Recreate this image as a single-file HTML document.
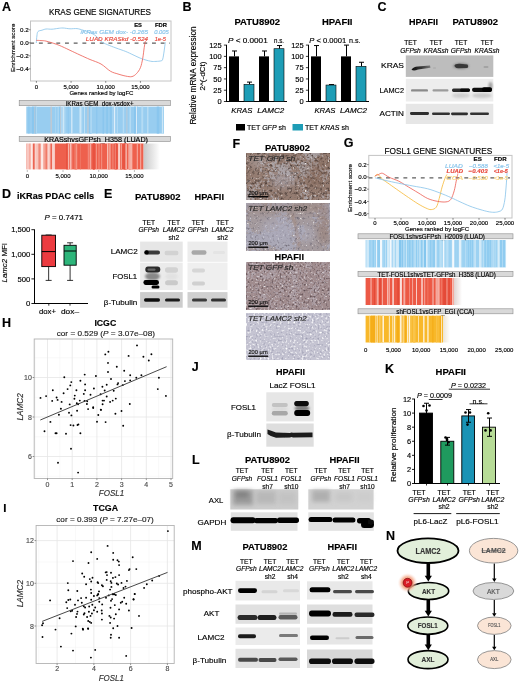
<!DOCTYPE html>
<html><head><meta charset="utf-8"><style>
html,body{margin:0;padding:0;background:#fff;}
svg{display:block;font-family:"Liberation Sans", Arial, sans-serif;}
</style></head><body>
<svg width="520" height="684" viewBox="0 0 520 684">
<defs><filter id="bl" x="-20%" y="-50%" width="140%" height="200%"><feGaussianBlur stdDeviation="0.75"/></filter><filter id="bl2" x="-20%" y="-50%" width="140%" height="200%"><feGaussianBlur stdDeviation="1.2"/></filter><filter id="bl3" x="-50%" y="-50%" width="200%" height="200%"><feGaussianBlur stdDeviation="2"/></filter><filter id="glow" x="-100%" y="-100%" width="300%" height="300%"><feGaussianBlur stdDeviation="1.6"/></filter><linearGradient id="fade13" x1="0" x2="1" y1="0" y2="0"><stop offset="0" stop-color="#c8c8c8"/><stop offset="1" stop-color="#ffffff"/></linearGradient><linearGradient id="krg" x1="0" x2="1" y1="0" y2="0"><stop offset="0" stop-color="#111"/><stop offset="0.5" stop-color="#333"/><stop offset="1" stop-color="#777"/></linearGradient><filter id="bl4" x="-50%" y="-50%" width="200%" height="200%"><feGaussianBlur stdDeviation="3"/></filter><filter id="ih1" x="0" y="0" width="100%" height="100%" color-interpolation-filters="sRGB">
<feTurbulence type="fractalNoise" baseFrequency="0.05" numOctaves="3" seed="3" result="lo0"/>
<feColorMatrix in="lo0" type="matrix" values="1 0 0 0 0  0 1 0 0 0  0 0 1 0 0  0 0 0 0 1" result="lo"/>
<feTurbulence type="fractalNoise" baseFrequency="0.4" numOctaves="2" seed="6" result="hi0"/>
<feColorMatrix in="hi0" type="matrix" values="1 0 0 0 0  0 1 0 0 0  0 0 1 0 0  0 0 0 0 1" result="hi"/>
<feComposite in="lo" in2="hi" operator="arithmetic" k1="0" k2="1.1" k3="0.9" k4="0" result="mix"/>
<feColorMatrix in="mix" type="matrix" values="0 0 0 0 0.525  0 0 0 0 0.384  0 0 0 0 0.310  3.0 0 0 0 -2.4" result="brown"/>
<feFlood flood-color="#aaa2a4" result="bg"/>
<feComposite in="brown" in2="bg" operator="over" result="c1"/>
<feColorMatrix in="hi" type="matrix" values="0 0 0 0 0.329  0 0 0 0 0.267  0 0 0 0 0.243  0 0 3.5 0 -1.75" result="dk"/>
<feComposite in="dk" in2="c1" operator="over" result="c2"/>
<feColorMatrix in="hi" type="matrix" values="0 0 0 0 1  0 0 0 0 1  0 0 0 0 1  0 4.0 0 0 -2.65" result="wt"/>
<feComposite in="wt" in2="c2" operator="over" result="c3"/><feGaussianBlur in="c3" stdDeviation="0.35"/>
</filter><clipPath id="ih1cp"><rect x="246.2" y="153" width="83" height="47"/></clipPath><filter id="ih2" x="0" y="0" width="100%" height="100%" color-interpolation-filters="sRGB">
<feTurbulence type="fractalNoise" baseFrequency="0.04" numOctaves="3" seed="8" result="lo0"/>
<feColorMatrix in="lo0" type="matrix" values="1 0 0 0 0  0 1 0 0 0  0 0 1 0 0  0 0 0 0 1" result="lo"/>
<feTurbulence type="fractalNoise" baseFrequency="0.4" numOctaves="2" seed="11" result="hi0"/>
<feColorMatrix in="hi0" type="matrix" values="1 0 0 0 0  0 1 0 0 0  0 0 1 0 0  0 0 0 0 1" result="hi"/>
<feComposite in="lo" in2="hi" operator="arithmetic" k1="0" k2="1.3" k3="0.7" k4="0" result="mix"/>
<feColorMatrix in="mix" type="matrix" values="0 0 0 0 0.604  0 0 0 0 0.502  0 0 0 0 0.439  3.0 0 0 0 -2.65" result="brown"/>
<feFlood flood-color="#aaa8b6" result="bg"/>
<feComposite in="brown" in2="bg" operator="over" result="c1"/>
<feColorMatrix in="hi" type="matrix" values="0 0 0 0 0.416  0 0 0 0 0.392  0 0 0 0 0.439  0 0 2.8 0 -1.55" result="dk"/>
<feComposite in="dk" in2="c1" operator="over" result="c2"/>
<feColorMatrix in="hi" type="matrix" values="0 0 0 0 1  0 0 0 0 1  0 0 0 0 1  0 4.0 0 0 -2.65" result="wt"/>
<feComposite in="wt" in2="c2" operator="over" result="c3"/><feGaussianBlur in="c3" stdDeviation="0.35"/>
</filter><clipPath id="ih2cp"><rect x="246.2" y="203" width="83" height="47.5"/></clipPath><filter id="ih3" x="0" y="0" width="100%" height="100%" color-interpolation-filters="sRGB">
<feTurbulence type="fractalNoise" baseFrequency="0.1" numOctaves="3" seed="13" result="lo0"/>
<feColorMatrix in="lo0" type="matrix" values="1 0 0 0 0  0 1 0 0 0  0 0 1 0 0  0 0 0 0 1" result="lo"/>
<feTurbulence type="fractalNoise" baseFrequency="0.5" numOctaves="2" seed="16" result="hi0"/>
<feColorMatrix in="hi0" type="matrix" values="1 0 0 0 0  0 1 0 0 0  0 0 1 0 0  0 0 0 0 1" result="hi"/>
<feComposite in="lo" in2="hi" operator="arithmetic" k1="0" k2="0.8" k3="1.2" k4="0" result="mix"/>
<feColorMatrix in="mix" type="matrix" values="0 0 0 0 0.541  0 0 0 0 0.416  0 0 0 0 0.392  2.5 0 0 0 -2.15" result="brown"/>
<feFlood flood-color="#ac9ea4" result="bg"/>
<feComposite in="brown" in2="bg" operator="over" result="c1"/>
<feColorMatrix in="hi" type="matrix" values="0 0 0 0 0.369  0 0 0 0 0.298  0 0 0 0 0.314  0 0 3.2 0 -1.65" result="dk"/>
<feComposite in="dk" in2="c1" operator="over" result="c2"/>
<feColorMatrix in="hi" type="matrix" values="0 0 0 0 1  0 0 0 0 1  0 0 0 0 1  0 3.6 0 0 -2.25" result="wt"/>
<feComposite in="wt" in2="c2" operator="over" result="c3"/><feGaussianBlur in="c3" stdDeviation="0.35"/>
</filter><filter id="ih4" x="0" y="0" width="100%" height="100%" color-interpolation-filters="sRGB">
<feTurbulence type="fractalNoise" baseFrequency="0.1" numOctaves="3" seed="17" result="lo0"/>
<feColorMatrix in="lo0" type="matrix" values="1 0 0 0 0  0 1 0 0 0  0 0 1 0 0  0 0 0 0 1" result="lo"/>
<feTurbulence type="fractalNoise" baseFrequency="0.5" numOctaves="2" seed="20" result="hi0"/>
<feColorMatrix in="hi0" type="matrix" values="1 0 0 0 0  0 1 0 0 0  0 0 1 0 0  0 0 0 0 1" result="hi"/>
<feComposite in="lo" in2="hi" operator="arithmetic" k1="0" k2="0.8" k3="1.2" k4="0" result="mix"/>
<feColorMatrix in="mix" type="matrix" values="0 0 0 0 0.690  0 0 0 0 0.627  0 0 0 0 0.659  1.5 0 0 0 -1.9" result="brown"/>
<feFlood flood-color="#c5c4d2" result="bg"/>
<feComposite in="brown" in2="bg" operator="over" result="c1"/>
<feColorMatrix in="hi" type="matrix" values="0 0 0 0 0.596  0 0 0 0 0.596  0 0 0 0 0.682  0 0 2.8 0 -1.5" result="dk"/>
<feComposite in="dk" in2="c1" operator="over" result="c2"/>
<feColorMatrix in="hi" type="matrix" values="0 0 0 0 1  0 0 0 0 1  0 0 0 0 1  0 3.6 0 0 -1.95" result="wt"/>
<feComposite in="wt" in2="c2" operator="over" result="c3"/><feGaussianBlur in="c3" stdDeviation="0.35"/>
</filter><linearGradient id="fade24" x1="0" x2="1" y1="0" y2="0"><stop offset="0" stop-color="#e0d4d2"/><stop offset="1" stop-color="#ffffff"/></linearGradient><linearGradient id="fade25" x1="0" x2="1" y1="0" y2="0"><stop offset="0" stop-color="#ece4d4"/><stop offset="1" stop-color="#ffffff"/></linearGradient><marker id="ah" viewBox="0 0 10 10" refX="8" refY="5" markerWidth="3.2" markerHeight="3.2" orient="auto"><path d="M0,0 L10,5 L0,10 z" fill="#000"/></marker><marker id="ah2" viewBox="0 0 10 10" refX="8" refY="5" markerWidth="4" markerHeight="4" orient="auto"><path d="M0,0 L10,5 L0,10 z" fill="#000"/></marker><radialGradient id="pg"><stop offset="0" stop-color="#ee7a56" stop-opacity="1"/><stop offset="0.6" stop-color="#f4a584" stop-opacity="0.8"/><stop offset="1" stop-color="#fde8df" stop-opacity="0"/></radialGradient></defs>
<rect width="520" height="684" fill="#fff"/>
<text x="2.00" y="10.50" font-size="12.5" font-weight="bold" stroke="#000" stroke-width="0.15" >A</text>
<text x="49.00" y="15.48" font-size="8.6" stroke="#000" stroke-width="0.15" textLength="102.00" lengthAdjust="spacingAndGlyphs" >KRAS GENE SIGNATURES</text>
<rect x="30.50" y="21.00" width="140.50" height="60.00" fill="none" stroke="#c4c4c4" stroke-width="1" />
<line x1="28.60" y1="29.76" x2="30.50" y2="29.76" stroke="#555" stroke-width="0.7" />
<text x="28.60" y="31.98" font-size="6.2" text-anchor="end" stroke="#000" stroke-width="0.15">0.2</text>
<line x1="28.60" y1="42.80" x2="30.50" y2="42.80" stroke="#555" stroke-width="0.7" />
<text x="28.60" y="45.02" font-size="6.2" text-anchor="end" stroke="#000" stroke-width="0.15">0.0</text>
<line x1="28.60" y1="55.84" x2="30.50" y2="55.84" stroke="#555" stroke-width="0.7" />
<text x="28.60" y="58.06" font-size="6.2" text-anchor="end" stroke="#000" stroke-width="0.15">–0.2</text>
<line x1="28.60" y1="68.88" x2="30.50" y2="68.88" stroke="#555" stroke-width="0.7" />
<text x="28.60" y="71.10" font-size="6.2" text-anchor="end" stroke="#000" stroke-width="0.15">–0.4</text>
<text transform="translate(14.62,72.00) rotate(-90)" x="0" y="0" font-size="6.2" textLength="48.40" lengthAdjust="spacingAndGlyphs" stroke="#000" stroke-width="0.15">Enrichment score</text>
<line x1="36.40" y1="81.00" x2="36.40" y2="82.80" stroke="#555" stroke-width="0.7" />
<text x="36.40" y="88.75" font-size="6.0" text-anchor="middle" stroke="#000" stroke-width="0.15">0</text>
<line x1="71.07" y1="81.00" x2="71.07" y2="82.80" stroke="#555" stroke-width="0.7" />
<text x="71.07" y="88.75" font-size="6.0" text-anchor="middle" stroke="#000" stroke-width="0.15">5,000</text>
<line x1="105.74" y1="81.00" x2="105.74" y2="82.80" stroke="#555" stroke-width="0.7" />
<text x="105.74" y="88.75" font-size="6.0" text-anchor="middle" stroke="#000" stroke-width="0.15">10,000</text>
<line x1="140.41" y1="81.00" x2="140.41" y2="82.80" stroke="#555" stroke-width="0.7" />
<text x="140.41" y="88.75" font-size="6.0" text-anchor="middle" stroke="#000" stroke-width="0.15">15,000</text>
<text x="69.40" y="95.48" font-size="6.1" stroke="#000" stroke-width="0.15" textLength="64.10" lengthAdjust="spacingAndGlyphs" >Genes ranked by logFC</text>
<line x1="30.2" y1="43.2" x2="170" y2="43.2" stroke="#5e5e5e" stroke-width="1.3" stroke-dasharray="3.9 4.8"/>
<polyline points="36.30,43.00 36.40,41.68 36.53,39.78 36.70,37.74 36.90,36.00 37.07,34.62 37.24,33.39 37.51,32.34 38.00,31.50 38.80,30.95 39.82,30.64 40.93,30.44 42.00,30.20 42.95,29.86 43.88,29.51 44.86,29.20 46.00,29.00 47.36,28.97 48.88,29.08 50.45,29.19 52.00,29.20 53.52,29.06 55.06,28.84 56.57,28.60 58.00,28.40 59.27,28.24 60.44,28.10 61.63,28.01 63.00,28.00 64.61,28.14 66.38,28.39 68.20,28.64 70.00,28.80 71.77,28.78 73.56,28.65 75.32,28.55 77.00,28.60 78.55,28.85 80.00,29.24 81.45,29.70 83.00,30.20 84.70,30.72 86.50,31.29 88.30,31.91 90.00,32.60 91.59,33.33 93.11,34.11 94.58,34.98 96.00,36.00 97.34,37.28 98.59,38.77 99.86,40.24 101.20,41.50 102.60,42.44 104.03,43.18 105.57,43.86 107.30,44.60 109.27,45.43 111.42,46.28 113.69,47.14 116.00,48.00 118.43,48.87 120.99,49.76 123.51,50.64 125.80,51.50 127.76,52.33 129.50,53.14 131.19,53.95 133.00,54.80 134.96,55.72 136.97,56.69 139.06,57.64 141.20,58.50 143.51,59.30 145.96,60.07 148.33,60.72 150.40,61.20 152.06,61.44 153.45,61.51 154.71,61.46 156.00,61.40 157.41,61.33 158.86,61.21 160.17,61.04 161.20,60.80 161.84,60.60 162.19,60.41 162.43,60.02 162.70,59.20 163.05,57.80 163.38,55.96 163.70,53.95 164.00,52.00 164.28,50.04 164.55,47.99 164.79,46.10 165.00,44.60 165.17,43.61 165.31,42.99 165.42,42.59 165.50,42.30" fill="none" stroke="#86c3ea" stroke-width="0.8" stroke-linejoin="round" />
<polyline points="36.30,40.30 37.14,40.35 38.34,40.42 39.69,40.50 41.00,40.60 42.11,40.65 43.16,40.68 44.38,40.79 46.00,41.10 48.26,41.70 50.99,42.51 53.77,43.39 56.20,44.20 58.13,44.91 59.80,45.59 61.37,46.27 63.00,47.00 64.67,47.76 66.30,48.53 68.03,49.36 70.00,50.30 72.29,51.38 74.81,52.57 77.43,53.81 80.00,55.00 82.48,56.14 84.94,57.26 87.43,58.38 90.00,59.50 92.72,60.56 95.54,61.58 98.34,62.69 101.00,64.00 103.50,65.71 105.91,67.71 108.21,69.65 110.40,71.20 112.42,72.23 114.30,72.92 116.13,73.45 118.00,74.00 119.98,74.61 121.99,75.19 123.96,75.70 125.80,76.10 127.48,76.42 129.05,76.67 130.52,76.76 131.90,76.60 133.17,76.16 134.34,75.50 135.43,74.64 136.50,73.60 137.56,72.41 138.59,71.04 139.55,69.47 140.40,67.70 141.11,65.67 141.70,63.41 142.22,60.99 142.70,58.50 143.15,55.77 143.54,52.82 143.89,50.01 144.20,47.70 144.46,46.04 144.66,44.81 144.84,43.86 145.00,43.00 145.16,42.22 145.30,41.61 145.42,41.14 145.50,40.80" fill="none" stroke="#ec5a50" stroke-width="0.8" stroke-linejoin="round" />
<text x="134.20" y="26.93" font-size="5.8" font-weight="bold" stroke="#000" stroke-width="0.15" textLength="7.70" lengthAdjust="spacingAndGlyphs" >ES</text>
<text x="155.00" y="26.93" font-size="5.8" font-weight="bold" stroke="#000" stroke-width="0.15" textLength="12.00" lengthAdjust="spacingAndGlyphs" >FDR</text>
<text x="80.50" y="33.61" font-size="5.9" font-style="italic" fill="#86c3ea" stroke="#86c3ea" stroke-width="0.15" textLength="67.50" lengthAdjust="spacingAndGlyphs" >iKRas GEM dox- -0.265</text>
<text x="154.20" y="33.61" font-size="5.9" font-style="italic" fill="#86c3ea" stroke="#86c3ea" stroke-width="0.15" textLength="14.60" lengthAdjust="spacingAndGlyphs" >0.005</text>
<text x="85.80" y="40.81" font-size="5.9" font-style="italic" fill="#e8473b" stroke="#e8473b" stroke-width="0.15" textLength="62.20" lengthAdjust="spacingAndGlyphs" >LUAD KRASkd -0.524</text>
<text x="154.70" y="40.81" font-size="5.9" font-style="italic" fill="#e8473b" stroke="#e8473b" stroke-width="0.15" textLength="11.30" lengthAdjust="spacingAndGlyphs" >1e-5</text>
<rect x="19.20" y="100.30" width="151.30" height="5.40" fill="#d9d9d9" stroke="#8c8c8c" stroke-width="0.6" />
<text x="66.00" y="105.76" font-size="6.3" stroke="#000" stroke-width="0.15" textLength="67.50" lengthAdjust="spacingAndGlyphs" >iKRas GEM_dox-vsdox+</text>
<rect x="26.30" y="106.60" width="137.70" height="27.00" fill="#98cdf0" />
<rect x="102.50" y="106.60" width="1.57" height="27.00" fill="#8ac6ee" />
<rect x="89.32" y="106.60" width="2.37" height="27.00" fill="#8ac6ee" />
<rect x="106.21" y="106.60" width="1.66" height="27.00" fill="#8ac6ee" />
<rect x="96.22" y="106.60" width="1.11" height="27.00" fill="#8ac6ee" />
<rect x="134.01" y="106.60" width="1.87" height="27.00" fill="#8ac6ee" />
<rect x="67.79" y="106.60" width="0.96" height="27.00" fill="#8ac6ee" />
<rect x="137.02" y="106.60" width="0.95" height="27.00" fill="#8ac6ee" />
<rect x="31.98" y="106.60" width="1.98" height="27.00" fill="#8ac6ee" />
<rect x="156.76" y="106.60" width="2.47" height="27.00" fill="#8ac6ee" />
<rect x="109.89" y="106.60" width="1.91" height="27.00" fill="#8ac6ee" />
<rect x="28.35" y="106.60" width="1.07" height="27.00" fill="#8ac6ee" />
<rect x="34.40" y="106.60" width="1.70" height="27.00" fill="#8ac6ee" />
<rect x="59.34" y="106.60" width="1.12" height="27.00" fill="#8ac6ee" />
<rect x="89.79" y="106.60" width="0.85" height="27.00" fill="#8ac6ee" />
<rect x="141.43" y="106.60" width="1.04" height="27.00" fill="#b4dbf4" />
<rect x="113.75" y="106.60" width="1.12" height="27.00" fill="#b4dbf4" />
<rect x="116.79" y="106.60" width="1.10" height="27.00" fill="#b4dbf4" />
<rect x="64.31" y="106.60" width="1.06" height="27.00" fill="#b4dbf4" />
<rect x="161.82" y="106.60" width="1.60" height="27.00" fill="#b4dbf4" />
<rect x="122.75" y="106.60" width="1.44" height="27.00" fill="#b4dbf4" />
<rect x="57.71" y="106.60" width="0.92" height="27.00" fill="#b4dbf4" />
<rect x="35.91" y="106.60" width="0.89" height="27.00" fill="#b4dbf4" />
<rect x="80.89" y="106.60" width="1.37" height="27.00" fill="#b4dbf4" />
<rect x="78.96" y="106.60" width="1.45" height="27.00" fill="#b4dbf4" />
<rect x="141.65" y="106.60" width="1.56" height="27.00" fill="#b4dbf4" />
<rect x="55.05" y="106.60" width="0.60" height="27.00" fill="#b4dbf4" />
<rect x="90.31" y="106.60" width="1.51" height="27.00" fill="#b4dbf4" />
<rect x="80.40" y="106.60" width="1.58" height="27.00" fill="#b4dbf4" />
<rect x="112.55" y="106.60" width="0.67" height="27.00" fill="#b4dbf4" />
<rect x="63.08" y="106.60" width="1.38" height="27.00" fill="#b4dbf4" />
<rect x="71.87" y="106.60" width="0.69" height="27.00" fill="#b4dbf4" />
<rect x="129.50" y="106.60" width="1.56" height="27.00" fill="#b4dbf4" />
<rect x="60.06" y="106.60" width="0.69" height="27.00" fill="#c8c8cc" />
<rect x="34.51" y="106.60" width="0.68" height="27.00" fill="#c8c8cc" />
<rect x="50.55" y="106.60" width="1.24" height="27.00" fill="#c8c8cc" />
<rect x="87.44" y="106.60" width="1.05" height="27.00" fill="#c8c8cc" />
<rect x="126.53" y="106.60" width="0.75" height="27.00" fill="#c8c8cc" />
<rect x="114.58" y="106.60" width="0.57" height="27.00" fill="#e2f0fa" />
<rect x="84.00" y="106.60" width="0.56" height="27.00" fill="#e2f0fa" />
<rect x="63.29" y="106.60" width="0.61" height="27.00" fill="#e2f0fa" />
<rect x="136.14" y="106.60" width="0.99" height="27.00" fill="#e2f0fa" />
<rect x="147.57" y="106.60" width="0.65" height="27.00" fill="#e2f0fa" />
<rect x="80.35" y="106.60" width="0.61" height="27.00" fill="#e2f0fa" />
<rect x="114.09" y="106.60" width="0.93" height="27.00" fill="#e2f0fa" />
<rect x="161.98" y="106.60" width="0.55" height="27.00" fill="#e2f0fa" />
<rect x="61.71" y="106.60" width="0.61" height="27.00" fill="#e2f0fa" />
<rect x="71.31" y="106.60" width="0.89" height="27.00" fill="#e2f0fa" />
<rect x="19.20" y="136.30" width="151.30" height="5.20" fill="#d9d9d9" stroke="#8c8c8c" stroke-width="0.6" />
<text x="44.20" y="141.66" font-size="6.3" stroke="#000" stroke-width="0.15" textLength="103.80" lengthAdjust="spacingAndGlyphs" >KRASshvsGFPsh_H358 (LUAD)</text>
<rect x="26.30" y="143.50" width="1.25" height="25.90" fill="#f4a295" />
<rect x="27.50" y="143.50" width="1.55" height="25.90" fill="#f8c6bf" />
<rect x="29.00" y="143.50" width="0.85" height="25.90" fill="#f4a295" />
<rect x="29.80" y="143.50" width="1.05" height="25.90" fill="#f4a295" />
<rect x="30.80" y="143.50" width="2.05" height="25.90" fill="#fde9e6" />
<rect x="32.80" y="143.50" width="2.05" height="25.90" fill="#ec6452" />
<rect x="34.80" y="143.50" width="0.85" height="25.90" fill="#f8c6bf" />
<rect x="35.60" y="143.50" width="2.05" height="25.90" fill="#f8c6bf" />
<rect x="37.60" y="143.50" width="1.25" height="25.90" fill="#f4a295" />
<rect x="38.80" y="143.50" width="1.05" height="25.90" fill="#ec6452" />
<rect x="39.80" y="143.50" width="0.65" height="25.90" fill="#f8c6bf" />
<rect x="40.40" y="143.50" width="0.85" height="25.90" fill="#f07a68" />
<rect x="41.20" y="143.50" width="2.05" height="25.90" fill="#fde9e6" />
<rect x="43.20" y="143.50" width="2.05" height="25.90" fill="#f4a295" />
<rect x="45.20" y="143.50" width="2.55" height="25.90" fill="#f07a68" />
<rect x="47.70" y="143.50" width="0.65" height="25.90" fill="#fde9e6" />
<rect x="48.30" y="143.50" width="2.05" height="25.90" fill="#f8c6bf" />
<rect x="50.30" y="143.50" width="0.65" height="25.90" fill="#ec6452" />
<rect x="50.90" y="143.50" width="1.25" height="25.90" fill="#ec6452" />
<rect x="52.10" y="143.50" width="0.65" height="25.90" fill="#f8c6bf" />
<rect x="52.70" y="143.50" width="0.85" height="25.90" fill="#f8c6bf" />
<rect x="53.50" y="143.50" width="1.55" height="25.90" fill="#f8c6bf" />
<rect x="55.00" y="143.50" width="1.05" height="25.90" fill="#ec6452" />
<rect x="56.00" y="143.50" width="87.60" height="25.90" fill="#ee604d" />
<rect x="115.18" y="143.50" width="1.24" height="25.90" fill="#f07a68" />
<rect x="128.73" y="143.50" width="1.96" height="25.90" fill="#f07a68" />
<rect x="75.94" y="143.50" width="1.12" height="25.90" fill="#f07a68" />
<rect x="75.49" y="143.50" width="1.05" height="25.90" fill="#f07a68" />
<rect x="67.14" y="143.50" width="2.05" height="25.90" fill="#f07a68" />
<rect x="74.37" y="143.50" width="1.70" height="25.90" fill="#f07a68" />
<rect x="93.24" y="143.50" width="1.30" height="25.90" fill="#f07a68" />
<rect x="107.94" y="143.50" width="2.22" height="25.90" fill="#f07a68" />
<rect x="79.94" y="143.50" width="0.82" height="25.90" fill="#f07a68" />
<rect x="131.41" y="143.50" width="1.05" height="25.90" fill="#f07a68" />
<rect x="124.86" y="143.50" width="2.18" height="25.90" fill="#f07a68" />
<rect x="119.60" y="143.50" width="2.20" height="25.90" fill="#f07a68" />
<rect x="123.23" y="143.50" width="2.90" height="25.90" fill="#e85240" />
<rect x="129.17" y="143.50" width="1.51" height="25.90" fill="#e85240" />
<rect x="120.65" y="143.50" width="1.97" height="25.90" fill="#e85240" />
<rect x="92.72" y="143.50" width="2.13" height="25.90" fill="#e85240" />
<rect x="92.91" y="143.50" width="1.73" height="25.90" fill="#e85240" />
<rect x="66.09" y="143.50" width="1.63" height="25.90" fill="#e85240" />
<rect x="123.82" y="143.50" width="2.64" height="25.90" fill="#e85240" />
<rect x="114.47" y="143.50" width="2.97" height="25.90" fill="#e85240" />
<rect x="120.90" y="143.50" width="0.89" height="25.90" fill="#f6ada3" />
<rect x="114.89" y="143.50" width="0.59" height="25.90" fill="#f6ada3" />
<rect x="71.33" y="143.50" width="0.81" height="25.90" fill="#f6ada3" />
<rect x="101.45" y="143.50" width="0.64" height="25.90" fill="#f6ada3" />
<rect x="95.94" y="143.50" width="0.68" height="25.90" fill="#f6ada3" />
<rect x="90.30" y="143.50" width="0.92" height="25.90" fill="#f6ada3" />
<rect x="98.71" y="143.50" width="0.59" height="25.90" fill="#f6ada3" />
<rect x="76.49" y="143.50" width="0.66" height="25.90" fill="#f6ada3" />
<rect x="87.87" y="143.50" width="0.64" height="25.90" fill="#f6ada3" />
<rect x="112.69" y="143.50" width="0.55" height="25.90" fill="#f6ada3" />
<rect x="89.68" y="143.50" width="1.17" height="25.90" fill="#f6ada3" />
<rect x="136.79" y="143.50" width="1.00" height="25.90" fill="#f6ada3" />
<rect x="68.34" y="143.50" width="0.52" height="25.90" fill="#fce6e2" />
<rect x="128.66" y="143.50" width="0.90" height="25.90" fill="#fce6e2" />
<rect x="69.86" y="143.50" width="0.82" height="25.90" fill="#fce6e2" />
<rect x="131.44" y="143.50" width="0.71" height="25.90" fill="#fce6e2" />
<rect x="125.60" y="143.50" width="0.94" height="25.90" fill="#fce6e2" />
<rect x="130.27" y="143.50" width="0.60" height="25.90" fill="#fce6e2" />
<rect x="118.27" y="143.50" width="0.69" height="25.90" fill="#fce6e2" />
<rect x="140.53" y="143.50" width="0.57" height="25.90" fill="#fce6e2" />
<rect x="118.73" y="143.50" width="0.80" height="25.90" fill="#fce6e2" />
<rect x="109.70" y="143.50" width="0.61" height="25.90" fill="#fce6e2" />
<rect x="107.32" y="143.50" width="0.79" height="25.90" fill="#fce6e2" />
<rect x="119.25" y="143.50" width="0.68" height="25.90" fill="#fce6e2" />
<rect x="143.60" y="143.50" width="16.40" height="25.90" fill="url(#fade13)" />
<line x1="27.30" y1="170.20" x2="27.30" y2="171.80" stroke="#777" stroke-width="0.6" />
<text x="27.30" y="177.65" font-size="6.0" text-anchor="middle" stroke="#000" stroke-width="0.15">0</text>
<line x1="63.00" y1="170.20" x2="63.00" y2="171.80" stroke="#777" stroke-width="0.6" />
<text x="63.00" y="177.65" font-size="6.0" text-anchor="middle" stroke="#000" stroke-width="0.15">5,000</text>
<line x1="98.70" y1="170.20" x2="98.70" y2="171.80" stroke="#777" stroke-width="0.6" />
<text x="98.70" y="177.65" font-size="6.0" text-anchor="middle" stroke="#000" stroke-width="0.15">10,000</text>
<line x1="134.40" y1="170.20" x2="134.40" y2="171.80" stroke="#777" stroke-width="0.6" />
<text x="134.40" y="177.65" font-size="6.0" text-anchor="middle" stroke="#000" stroke-width="0.15">15,000</text>
<text x="182.50" y="10.50" font-size="12.5" font-weight="bold" stroke="#000" stroke-width="0.15" >B</text>
<text x="234.50" y="25.22" font-size="9.0" font-weight="bold" stroke="#000" stroke-width="0.15" textLength="45.50" lengthAdjust="spacingAndGlyphs" >PATU8902</text>
<line x1="226.50" y1="44.80" x2="226.50" y2="102.00" stroke="#000" stroke-width="1.0" />
<line x1="223.90" y1="101.50" x2="226.50" y2="101.50" stroke="#000" stroke-width="0.8" />
<text x="221.70" y="104.19" font-size="7.5" text-anchor="end" stroke="#000" stroke-width="0.15">0</text>
<line x1="223.90" y1="90.22" x2="226.50" y2="90.22" stroke="#000" stroke-width="0.8" />
<text x="221.70" y="92.91" font-size="7.5" text-anchor="end" stroke="#000" stroke-width="0.15">25</text>
<line x1="223.90" y1="78.94" x2="226.50" y2="78.94" stroke="#000" stroke-width="0.8" />
<text x="221.70" y="81.62" font-size="7.5" text-anchor="end" stroke="#000" stroke-width="0.15">50</text>
<line x1="223.90" y1="67.66" x2="226.50" y2="67.66" stroke="#000" stroke-width="0.8" />
<text x="221.70" y="70.34" font-size="7.5" text-anchor="end" stroke="#000" stroke-width="0.15">75</text>
<line x1="223.90" y1="56.38" x2="226.50" y2="56.38" stroke="#000" stroke-width="0.8" />
<text x="221.70" y="59.07" font-size="7.5" text-anchor="end" stroke="#000" stroke-width="0.15">100</text>
<line x1="223.90" y1="45.10" x2="226.50" y2="45.10" stroke="#000" stroke-width="0.8" />
<text x="221.70" y="47.79" font-size="7.5" text-anchor="end" stroke="#000" stroke-width="0.15">125</text>
<line x1="226.50" y1="101.50" x2="287.00" y2="101.50" stroke="#000" stroke-width="1.0" />
<line x1="234.50" y1="50.97" x2="234.50" y2="56.38" stroke="#000" stroke-width="1.0" />
<line x1="232.00" y1="50.97" x2="237.00" y2="50.97" stroke="#000" stroke-width="1.0" />
<rect x="229.00" y="56.38" width="10.00" height="45.12" fill="#000" />
<line x1="249.50" y1="82.10" x2="249.50" y2="84.35" stroke="#000" stroke-width="1.0" />
<line x1="247.00" y1="82.10" x2="252.00" y2="82.10" stroke="#000" stroke-width="1.0" />
<rect x="244.00" y="84.35" width="10.00" height="17.15" fill="#1e9db6" stroke="#000" stroke-width="0.6" />
<line x1="264.50" y1="50.97" x2="264.50" y2="56.38" stroke="#000" stroke-width="1.0" />
<line x1="262.00" y1="50.97" x2="267.00" y2="50.97" stroke="#000" stroke-width="1.0" />
<rect x="259.00" y="56.38" width="10.00" height="45.12" fill="#000" />
<line x1="279.50" y1="45.55" x2="279.50" y2="48.71" stroke="#000" stroke-width="1.0" />
<line x1="277.00" y1="45.55" x2="282.00" y2="45.55" stroke="#000" stroke-width="1.0" />
<rect x="274.00" y="48.71" width="10.00" height="52.79" fill="#1e9db6" stroke="#000" stroke-width="0.6" />
<text x="227.90" y="43.15" font-size="7.4" stroke="#000" stroke-width="0.15" textLength="39.80" lengthAdjust="spacingAndGlyphs" ><tspan font-style="italic">P</tspan> &lt; 0.0001</text>
<text x="274.00" y="43.15" font-size="7.4" stroke="#000" stroke-width="0.15" textLength="10.00" lengthAdjust="spacingAndGlyphs" >n.s.</text>
<text x="231.30" y="113.09" font-size="7.8" font-style="italic" stroke="#000" stroke-width="0.15" textLength="21.10" lengthAdjust="spacingAndGlyphs" >KRAS</text>
<text x="257.30" y="113.09" font-size="7.8" font-style="italic" stroke="#000" stroke-width="0.15" textLength="26.90" lengthAdjust="spacingAndGlyphs" >LAMC2</text>
<text x="322.00" y="25.22" font-size="9.0" font-weight="bold" stroke="#000" stroke-width="0.15" textLength="30.50" lengthAdjust="spacingAndGlyphs" >HPAFII</text>
<line x1="308.50" y1="44.80" x2="308.50" y2="102.00" stroke="#000" stroke-width="1.0" />
<line x1="305.90" y1="101.50" x2="308.50" y2="101.50" stroke="#000" stroke-width="0.8" />
<text x="303.70" y="104.19" font-size="7.5" text-anchor="end" stroke="#000" stroke-width="0.15">0</text>
<line x1="305.90" y1="90.22" x2="308.50" y2="90.22" stroke="#000" stroke-width="0.8" />
<text x="303.70" y="92.91" font-size="7.5" text-anchor="end" stroke="#000" stroke-width="0.15">25</text>
<line x1="305.90" y1="78.94" x2="308.50" y2="78.94" stroke="#000" stroke-width="0.8" />
<text x="303.70" y="81.62" font-size="7.5" text-anchor="end" stroke="#000" stroke-width="0.15">50</text>
<line x1="305.90" y1="67.66" x2="308.50" y2="67.66" stroke="#000" stroke-width="0.8" />
<text x="303.70" y="70.34" font-size="7.5" text-anchor="end" stroke="#000" stroke-width="0.15">75</text>
<line x1="305.90" y1="56.38" x2="308.50" y2="56.38" stroke="#000" stroke-width="0.8" />
<text x="303.70" y="59.07" font-size="7.5" text-anchor="end" stroke="#000" stroke-width="0.15">100</text>
<line x1="305.90" y1="45.10" x2="308.50" y2="45.10" stroke="#000" stroke-width="0.8" />
<text x="303.70" y="47.79" font-size="7.5" text-anchor="end" stroke="#000" stroke-width="0.15">125</text>
<line x1="308.50" y1="101.50" x2="369.00" y2="101.50" stroke="#000" stroke-width="1.0" />
<line x1="316.50" y1="45.55" x2="316.50" y2="56.38" stroke="#000" stroke-width="1.0" />
<line x1="314.00" y1="45.55" x2="319.00" y2="45.55" stroke="#000" stroke-width="1.0" />
<rect x="311.00" y="56.38" width="10.00" height="45.12" fill="#000" />
<line x1="331.50" y1="84.58" x2="331.50" y2="85.03" stroke="#000" stroke-width="1.0" />
<line x1="329.00" y1="84.58" x2="334.00" y2="84.58" stroke="#000" stroke-width="1.0" />
<rect x="326.00" y="85.03" width="10.00" height="16.47" fill="#1e9db6" stroke="#000" stroke-width="0.6" />
<line x1="346.50" y1="45.10" x2="346.50" y2="56.38" stroke="#000" stroke-width="1.0" />
<line x1="344.00" y1="45.10" x2="349.00" y2="45.10" stroke="#000" stroke-width="1.0" />
<rect x="341.00" y="56.38" width="10.00" height="45.12" fill="#000" />
<line x1="361.50" y1="62.25" x2="361.50" y2="66.31" stroke="#000" stroke-width="1.0" />
<line x1="359.00" y1="62.25" x2="364.00" y2="62.25" stroke="#000" stroke-width="1.0" />
<rect x="356.00" y="66.31" width="10.00" height="35.19" fill="#1e9db6" stroke="#000" stroke-width="0.6" />
<text x="309.20" y="43.15" font-size="7.4" stroke="#000" stroke-width="0.15" textLength="37.00" lengthAdjust="spacingAndGlyphs" ><tspan font-style="italic">P</tspan> &lt; 0.0001</text>
<text x="349.00" y="43.15" font-size="7.4" stroke="#000" stroke-width="0.15" textLength="11.60" lengthAdjust="spacingAndGlyphs" >n.s.</text>
<text x="314.40" y="113.09" font-size="7.8" font-style="italic" stroke="#000" stroke-width="0.15" textLength="21.10" lengthAdjust="spacingAndGlyphs" >KRAS</text>
<text x="340.10" y="113.09" font-size="7.8" font-style="italic" stroke="#000" stroke-width="0.15" textLength="26.90" lengthAdjust="spacingAndGlyphs" >LAMC2</text>
<text transform="translate(195.54,124.60) rotate(-90)" x="0" y="0" font-size="8.2" textLength="98.20" lengthAdjust="spacingAndGlyphs" stroke="#000" stroke-width="0.15">Relative mRNA expression</text>
<text transform="translate(205.46,90.40) rotate(-90)" x="0" y="0" font-size="8.0" textLength="28.90" lengthAdjust="spacingAndGlyphs" stroke="#000" stroke-width="0.15">2^(-dCt)</text>
<rect x="236.00" y="124.00" width="9.00" height="6.50" fill="#000" />
<text x="247.00" y="129.85" font-size="7.4" stroke="#000" stroke-width="0.15" textLength="39.00" lengthAdjust="spacingAndGlyphs" >TET <tspan font-style="italic">GFP</tspan> sh</text>
<rect x="292.50" y="124.00" width="10.50" height="6.50" fill="#1e9db6" />
<text x="305.00" y="129.85" font-size="7.4" stroke="#000" stroke-width="0.15" textLength="44.00" lengthAdjust="spacingAndGlyphs" >TET <tspan font-style="italic">KRAS</tspan> sh</text>
<text x="377.50" y="10.50" font-size="12.5" font-weight="bold" stroke="#000" stroke-width="0.15" >C</text>
<text x="409.00" y="25.22" font-size="9.0" font-weight="bold" stroke="#000" stroke-width="0.15" textLength="29.00" lengthAdjust="spacingAndGlyphs" >HPAFII</text>
<text x="452.50" y="25.22" font-size="9.0" font-weight="bold" stroke="#000" stroke-width="0.15" textLength="45.50" lengthAdjust="spacingAndGlyphs" >PATU8902</text>
<text x="410.50" y="45.36" font-size="6.6" text-anchor="middle" stroke="#000" stroke-width="0.15">TET</text>
<text x="410.50" y="53.36" font-size="6.6" text-anchor="middle" font-style="italic" stroke="#000" stroke-width="0.15">GFPsh</text>
<text x="436.00" y="45.36" font-size="6.6" text-anchor="middle" stroke="#000" stroke-width="0.15">TET</text>
<text x="436.00" y="53.36" font-size="6.6" text-anchor="middle" font-style="italic" stroke="#000" stroke-width="0.15">KRASsh</text>
<text x="461.00" y="45.36" font-size="6.6" text-anchor="middle" stroke="#000" stroke-width="0.15">TET</text>
<text x="461.00" y="53.36" font-size="6.6" text-anchor="middle" font-style="italic" stroke="#000" stroke-width="0.15">GFPsh</text>
<text x="487.00" y="45.36" font-size="6.6" text-anchor="middle" stroke="#000" stroke-width="0.15">TET</text>
<text x="487.00" y="53.36" font-size="6.6" text-anchor="middle" font-style="italic" stroke="#000" stroke-width="0.15">KRASsh</text>
<text x="381.00" y="68.36" font-size="8.0" stroke="#000" stroke-width="0.15" textLength="23.00" lengthAdjust="spacingAndGlyphs" >KRAS</text>
<text x="379.50" y="93.16" font-size="8.0" stroke="#000" stroke-width="0.15" textLength="24.50" lengthAdjust="spacingAndGlyphs" >LAMC2</text>
<text x="379.50" y="116.36" font-size="8.0" stroke="#000" stroke-width="0.15" textLength="24.50" lengthAdjust="spacingAndGlyphs" >ACTIN</text>
<rect x="405.80" y="55.40" width="87.50" height="21.50" fill="#bdbdbd" />
<ellipse cx="461.00" cy="66.00" rx="8.00" ry="3.00" fill="#666" opacity="0.6" filter="url(#bl2)"/>
<rect x="433.00" y="67.40" width="3.00" height="1.20" rx="0.54" ry="0.60" fill="#999" opacity="0.6" filter="url(#bl)"/>
<rect x="483.50" y="66.00" width="5.00" height="2.00" rx="0.90" ry="1.00" fill="#999" opacity="0.7" filter="url(#bl)"/>
<path d="M411.5,69.8 Q413,66.6 418,66.4 L430,65.4 L430.5,67.8 L418,69.4 Q414,71.4 411.5,69.8 z" fill="url(#krg)" filter="url(#bl)"/>
<path d="M454.5,65.5 Q455,63.5 460,63.8 L467.5,64.5 Q469,66.2 467.5,68 L458,68.2 Q454.5,67.8 454.5,65.5 z" fill="#2a2a2a" opacity="0.85" filter="url(#bl)"/>
<rect x="405.80" y="78.80" width="87.50" height="22.70" fill="#ededed" />
<ellipse cx="461.00" cy="95.50" rx="9.00" ry="2.50" fill="#c8c8c8" opacity="0.8" filter="url(#bl2)"/>
<ellipse cx="482.00" cy="95.50" rx="10.00" ry="2.50" fill="#c0c0c0" opacity="0.8" filter="url(#bl2)"/>
<ellipse cx="490.50" cy="86.00" rx="2.00" ry="4.00" fill="#555" opacity="0.5" filter="url(#bl2)"/>
<rect x="411.00" y="89.20" width="17.00" height="2.40" rx="1.08" ry="1.20" fill="#8a8a8a" opacity="1" filter="url(#bl)"/>
<rect x="432.50" y="89.30" width="16.00" height="2.20" rx="0.99" ry="1.10" fill="#9c9c9c" opacity="1" filter="url(#bl)"/>
<rect x="452.00" y="88.50" width="18.00" height="3.40" rx="1.53" ry="1.70" fill="#2a2a2a" opacity="1" filter="url(#bl)"/>
<rect x="460.00" y="88.50" width="10.00" height="3.20" rx="1.44" ry="1.60" fill="#000" opacity="0.8" filter="url(#bl)"/>
<rect x="472.00" y="87.70" width="20.00" height="4.20" rx="1.89" ry="2.10" fill="#111" opacity="1" filter="url(#bl)"/>
<rect x="482.00" y="87.30" width="10.00" height="4.60" rx="2.07" ry="2.30" fill="#000" opacity="1" filter="url(#bl)"/>
<rect x="405.80" y="103.80" width="87.50" height="20.20" fill="#e6e6e6" />
<rect x="410.00" y="112.10" width="19.00" height="2.80" rx="1.26" ry="1.40" fill="#2e2e2e" opacity="1" filter="url(#bl)"/>
<rect x="432.00" y="112.40" width="18.00" height="2.60" rx="1.17" ry="1.30" fill="#333" opacity="1" filter="url(#bl)"/>
<rect x="451.00" y="112.40" width="17.00" height="2.80" rx="1.26" ry="1.40" fill="#2e2e2e" opacity="1" filter="url(#bl)"/>
<rect x="470.00" y="112.40" width="19.00" height="2.60" rx="1.17" ry="1.30" fill="#333" opacity="1" filter="url(#bl)"/>
<text x="2.00" y="198.30" font-size="12.5" font-weight="bold" stroke="#000" stroke-width="0.15" >D</text>
<text x="17.00" y="199.06" font-size="9.1" font-weight="bold" stroke="#000" stroke-width="0.15" textLength="77.00" lengthAdjust="spacingAndGlyphs" >iKRas PDAC cells</text>
<text x="44.50" y="219.63" font-size="7.9" stroke="#000" stroke-width="0.15" textLength="38.50" lengthAdjust="spacingAndGlyphs" ><tspan font-style="italic">P</tspan> = 0.7471</text>
<line x1="34.50" y1="229.40" x2="34.50" y2="304.00" stroke="#000" stroke-width="1.0" />
<line x1="31.40" y1="303.50" x2="34.50" y2="303.50" stroke="#000" stroke-width="0.9" />
<text x="30.40" y="306.26" font-size="7.7" text-anchor="end" stroke="#000" stroke-width="0.15">0</text>
<line x1="31.40" y1="278.90" x2="34.50" y2="278.90" stroke="#000" stroke-width="0.9" />
<text x="30.40" y="281.66" font-size="7.7" text-anchor="end" stroke="#000" stroke-width="0.15">500</text>
<line x1="31.40" y1="254.30" x2="34.50" y2="254.30" stroke="#000" stroke-width="0.9" />
<text x="30.40" y="257.06" font-size="7.7" text-anchor="end" stroke="#000" stroke-width="0.15">1,000</text>
<line x1="31.40" y1="229.70" x2="34.50" y2="229.70" stroke="#000" stroke-width="0.9" />
<text x="30.40" y="232.46" font-size="7.7" text-anchor="end" stroke="#000" stroke-width="0.15">1,500</text>
<line x1="34.50" y1="303.50" x2="88.00" y2="303.50" stroke="#000" stroke-width="1.0" />
<line x1="48.80" y1="303.50" x2="48.80" y2="305.70" stroke="#000" stroke-width="0.8" />
<line x1="70.00" y1="303.50" x2="70.00" y2="305.70" stroke="#000" stroke-width="0.8" />
<text x="39.00" y="313.72" font-size="7.6" stroke="#000" stroke-width="0.15" textLength="17.00" lengthAdjust="spacingAndGlyphs" >dox+</text>
<text x="61.00" y="313.72" font-size="7.6" stroke="#000" stroke-width="0.15" textLength="18.00" lengthAdjust="spacingAndGlyphs" >dox–</text>
<text transform="translate(7.39,282.50) rotate(-90)" x="0" y="0" font-size="7.8" textLength="39.50" lengthAdjust="spacingAndGlyphs" stroke="#000" stroke-width="0.15"><tspan font-style="italic">Lamc2</tspan> MFI</text>
<line x1="48.65" y1="235.00" x2="48.65" y2="235.20" stroke="#000" stroke-width="0.8" />
<line x1="48.65" y1="266.60" x2="48.65" y2="280.40" stroke="#000" stroke-width="0.8" />
<line x1="45.65" y1="280.40" x2="51.65" y2="280.40" stroke="#000" stroke-width="0.8" />
<line x1="45.65" y1="235.00" x2="51.65" y2="235.00" stroke="#000" stroke-width="0.8" />
<rect x="41.80" y="235.20" width="13.70" height="31.40" fill="#ec3b40" stroke="#000" stroke-width="0.9" />
<line x1="41.80" y1="251.60" x2="55.50" y2="251.60" stroke="#000" stroke-width="1.0" />
<line x1="70.10" y1="242.80" x2="70.10" y2="245.30" stroke="#000" stroke-width="0.8" />
<line x1="70.10" y1="265.20" x2="70.10" y2="280.40" stroke="#000" stroke-width="0.8" />
<line x1="67.10" y1="280.40" x2="73.10" y2="280.40" stroke="#000" stroke-width="0.8" />
<line x1="67.10" y1="242.80" x2="73.10" y2="242.80" stroke="#000" stroke-width="0.8" />
<rect x="64.00" y="245.30" width="12.20" height="19.90" fill="#2db57a" stroke="#000" stroke-width="0.9" />
<line x1="64.00" y1="251.00" x2="76.20" y2="251.00" stroke="#000" stroke-width="1.0" />
<text x="104.00" y="198.30" font-size="12.5" font-weight="bold" stroke="#000" stroke-width="0.15" >E</text>
<text x="135.00" y="200.22" font-size="9.0" font-weight="bold" stroke="#000" stroke-width="0.15" textLength="45.50" lengthAdjust="spacingAndGlyphs" >PATU8902</text>
<text x="194.50" y="200.22" font-size="9.0" font-weight="bold" stroke="#000" stroke-width="0.15" textLength="29.50" lengthAdjust="spacingAndGlyphs" >HPAFII</text>
<text x="148.75" y="224.86" font-size="6.6" text-anchor="middle" stroke="#000" stroke-width="0.15">TET</text>
<text x="148.75" y="231.96" font-size="6.6" text-anchor="middle" font-style="italic" stroke="#000" stroke-width="0.15">GFPsh</text>
<text x="173.75" y="224.86" font-size="6.6" text-anchor="middle" stroke="#000" stroke-width="0.15">TET</text>
<text x="173.75" y="231.96" font-size="6.6" text-anchor="middle" font-style="italic" stroke="#000" stroke-width="0.15">LAMC2</text>
<text x="173.75" y="240.46" font-size="6.6" text-anchor="middle" stroke="#000" stroke-width="0.15">sh2</text>
<text x="198.00" y="224.86" font-size="6.6" text-anchor="middle" stroke="#000" stroke-width="0.15">TET</text>
<text x="198.00" y="231.96" font-size="6.6" text-anchor="middle" font-style="italic" stroke="#000" stroke-width="0.15">GFPsh</text>
<text x="222.50" y="224.86" font-size="6.6" text-anchor="middle" stroke="#000" stroke-width="0.15">TET</text>
<text x="222.50" y="231.96" font-size="6.6" text-anchor="middle" font-style="italic" stroke="#000" stroke-width="0.15">LAMC2</text>
<text x="222.50" y="240.46" font-size="6.6" text-anchor="middle" stroke="#000" stroke-width="0.15">sh2</text>
<text x="110.70" y="254.40" font-size="8.1" stroke="#000" stroke-width="0.15" textLength="27.00" lengthAdjust="spacingAndGlyphs" >LAMC2</text>
<text x="112.50" y="279.40" font-size="8.1" stroke="#000" stroke-width="0.15" textLength="24.70" lengthAdjust="spacingAndGlyphs" >FOSL1</text>
<text x="103.80" y="304.50" font-size="8.1" stroke="#000" stroke-width="0.15" textLength="33.40" lengthAdjust="spacingAndGlyphs" >β-Tubulin</text>
<rect x="140.10" y="241.60" width="42.60" height="20.20" fill="#e6e6e6" />
<rect x="145.00" y="250.50" width="15.00" height="4.00" rx="1.80" ry="2.00" fill="#3a3a3a" opacity="1" filter="url(#bl)"/>
<rect x="144.25" y="250.20" width="4.50" height="4.40" rx="1.98" ry="2.20" fill="#000" opacity="1" filter="url(#bl)"/>
<rect x="164.50" y="250.75" width="14.00" height="4.50" rx="2.02" ry="2.25" fill="#d2d2d2" opacity="1" filter="url(#bl)"/>
<rect x="140.10" y="262.70" width="42.60" height="27.30" fill="#ebebeb" />
<ellipse cx="152.50" cy="276.30" rx="7.50" ry="4.00" fill="#777" opacity="0.85" filter="url(#bl2)"/>
<ellipse cx="171.50" cy="276.50" rx="6.50" ry="3.50" fill="#dcdcdc" opacity="0.6" filter="url(#bl2)"/>
<rect x="145.30" y="266.50" width="15.00" height="6.00" rx="2.70" ry="3.00" fill="#2a2a2a" opacity="1" filter="url(#bl)"/>
<rect x="147.50" y="268.40" width="8.00" height="2.40" rx="1.08" ry="1.20" fill="#777" opacity="0.8" filter="url(#bl)"/>
<rect x="143.40" y="280.10" width="15.60" height="4.80" rx="2.16" ry="2.40" fill="#000" opacity="1" filter="url(#bl)"/>
<rect x="151.50" y="285.40" width="8.00" height="3.20" rx="1.44" ry="1.60" fill="#050505" opacity="1" filter="url(#bl)"/>
<rect x="165.00" y="267.25" width="13.00" height="5.50" rx="2.48" ry="2.75" fill="#d2d2d2" opacity="1" filter="url(#bl)"/>
<rect x="165.00" y="280.30" width="13.00" height="5.00" rx="2.25" ry="2.50" fill="#cacaca" opacity="1" filter="url(#bl)"/>
<rect x="140.10" y="292.10" width="42.60" height="15.60" fill="#cdcdcd" />
<rect x="144.00" y="298.30" width="16.00" height="3.40" rx="1.53" ry="1.70" fill="#111" opacity="1" filter="url(#bl)"/>
<rect x="165.00" y="298.40" width="15.00" height="3.20" rx="1.44" ry="1.60" fill="#1a1a1a" opacity="1" filter="url(#bl)"/>
<rect x="187.50" y="241.60" width="40.00" height="20.20" fill="#ececec" />
<rect x="191.50" y="250.30" width="15.00" height="4.40" rx="1.98" ry="2.20" fill="#a8a8a8" opacity="1" filter="url(#bl)"/>
<rect x="213.00" y="251.00" width="12.00" height="3.00" rx="1.35" ry="1.50" fill="#e4e4e4" opacity="1" filter="url(#bl)"/>
<rect x="187.50" y="262.70" width="40.00" height="27.30" fill="#efefef" />
<rect x="192.00" y="268.50" width="13.00" height="4.00" rx="1.80" ry="2.00" fill="#d6d6d6" opacity="1" filter="url(#bl)"/>
<rect x="192.00" y="281.50" width="13.00" height="4.00" rx="1.80" ry="2.00" fill="#d0d0d0" opacity="1" filter="url(#bl)"/>
<rect x="187.50" y="292.10" width="40.00" height="15.60" fill="#d0d0d0" />
<rect x="192.00" y="298.50" width="15.00" height="3.00" rx="1.35" ry="1.50" fill="#3a3a3a" opacity="1" filter="url(#bl)"/>
<rect x="211.00" y="298.50" width="15.00" height="3.00" rx="1.35" ry="1.50" fill="#333" opacity="1" filter="url(#bl)"/>
<text x="232.50" y="148.30" font-size="12.5" font-weight="bold" stroke="#000" stroke-width="0.15" >F</text>
<text x="265.00" y="150.72" font-size="9.0" font-weight="bold" stroke="#000" stroke-width="0.15" textLength="45.00" lengthAdjust="spacingAndGlyphs" >PATU8902</text>
<text x="274.50" y="259.82" font-size="9.0" font-weight="bold" stroke="#000" stroke-width="0.15" textLength="29.50" lengthAdjust="spacingAndGlyphs" >HPAFII</text>
<rect x="246.20" y="153.00" width="83.00" height="47.00" fill="#fff" filter="url(#ih1)"/>
<g clip-path="url(#ih1cp)">
<ellipse cx="283" cy="180" rx="12" ry="8" fill="#b0acb6" opacity="0.5" filter="url(#bl4)"/>
<ellipse cx="258" cy="162" rx="10" ry="6" fill="#b8b0b4" opacity="0.4" filter="url(#bl4)"/>
<ellipse cx="316" cy="172" rx="12" ry="14" fill="#7e5e4e" opacity="0.3" filter="url(#bl4)"/>
</g>
<text x="248.20" y="161.12" font-size="7.6" font-style="italic" fill="#2a2a2a" stroke="#2a2a2a" stroke-width="0.15" textLength="47.00" lengthAdjust="spacingAndGlyphs" >TET GFP sh</text>
<text x="248.40" y="194.95" font-size="6.0" fill="#111" stroke="#111" stroke-width="0.15" textLength="19.30" lengthAdjust="spacingAndGlyphs" >200 μm</text>
<line x1="248.20" y1="196.70" x2="268.20" y2="196.70" stroke="#000" stroke-width="1.3" />
<rect x="246.20" y="203.00" width="83.00" height="47.50" fill="#fff" filter="url(#ih2)"/>
<g clip-path="url(#ih2cp)">
<ellipse cx="277" cy="229" rx="17" ry="12" fill="#aeacbc" opacity="0.55" filter="url(#bl4)"/>
<ellipse cx="307" cy="234" rx="8" ry="9" fill="#aeacbc" opacity="0.5" filter="url(#bl4)"/>
<rect x="246" y="203" width="83" height="9" fill="#9a7a68" opacity="0.35" filter="url(#bl4)"/>
<ellipse cx="324" cy="225" rx="6" ry="20" fill="#907060" opacity="0.4" filter="url(#bl4)"/>
<path d="M292,214 Q297,228 299,246" stroke="#a07050" stroke-width="3" fill="none" opacity="0.25" filter="url(#bl2)"/>
</g>
<text x="248.20" y="211.12" font-size="7.6" font-style="italic" fill="#2a2a2a" stroke="#2a2a2a" stroke-width="0.15" textLength="59.00" lengthAdjust="spacingAndGlyphs" >TET LAMC2 sh2</text>
<text x="248.40" y="245.45" font-size="6.0" fill="#111" stroke="#111" stroke-width="0.15" textLength="19.30" lengthAdjust="spacingAndGlyphs" >200 μm</text>
<line x1="248.20" y1="247.20" x2="268.20" y2="247.20" stroke="#000" stroke-width="1.3" />
<rect x="246.20" y="262.00" width="83.00" height="47.50" fill="#fff" filter="url(#ih3)"/>
<text x="248.20" y="270.12" font-size="7.6" font-style="italic" fill="#2a2a2a" stroke="#2a2a2a" stroke-width="0.15" textLength="45.00" lengthAdjust="spacingAndGlyphs" >TET GFP sh</text>
<text x="248.40" y="304.45" font-size="6.0" fill="#111" stroke="#111" stroke-width="0.15" textLength="19.30" lengthAdjust="spacingAndGlyphs" >200 μm</text>
<line x1="248.20" y1="306.20" x2="268.20" y2="306.20" stroke="#000" stroke-width="1.3" />
<rect x="246.20" y="313.00" width="83.00" height="46.50" fill="#fff" filter="url(#ih4)"/>
<text x="248.20" y="321.12" font-size="7.6" font-style="italic" fill="#2a2a2a" stroke="#2a2a2a" stroke-width="0.15" textLength="58.50" lengthAdjust="spacingAndGlyphs" >TET LAMC2 sh2</text>
<text x="248.40" y="354.45" font-size="6.0" fill="#111" stroke="#111" stroke-width="0.15" textLength="19.30" lengthAdjust="spacingAndGlyphs" >200 μm</text>
<line x1="248.20" y1="356.20" x2="268.20" y2="356.20" stroke="#000" stroke-width="1.3" />
<text x="343.80" y="146.80" font-size="12.5" font-weight="bold" stroke="#000" stroke-width="0.15" >G</text>
<text x="384.50" y="154.18" font-size="8.6" stroke="#000" stroke-width="0.15" textLength="107.80" lengthAdjust="spacingAndGlyphs" >FOSL1 GENE SIGNATURES</text>
<rect x="368.80" y="155.40" width="143.20" height="62.60" fill="none" stroke="#c4c4c4" stroke-width="1" />
<line x1="367.00" y1="164.62" x2="368.80" y2="164.62" stroke="#555" stroke-width="0.7" />
<text x="366.80" y="166.84" font-size="6.2" text-anchor="end" stroke="#000" stroke-width="0.15">0.2</text>
<line x1="367.00" y1="176.90" x2="368.80" y2="176.90" stroke="#555" stroke-width="0.7" />
<text x="366.80" y="179.12" font-size="6.2" text-anchor="end" stroke="#000" stroke-width="0.15">0.0</text>
<line x1="367.00" y1="189.18" x2="368.80" y2="189.18" stroke="#555" stroke-width="0.7" />
<text x="366.80" y="191.40" font-size="6.2" text-anchor="end" stroke="#000" stroke-width="0.15">–0.2</text>
<line x1="367.00" y1="201.46" x2="368.80" y2="201.46" stroke="#555" stroke-width="0.7" />
<text x="366.80" y="203.68" font-size="6.2" text-anchor="end" stroke="#000" stroke-width="0.15">–0.4</text>
<line x1="367.00" y1="213.74" x2="368.80" y2="213.74" stroke="#555" stroke-width="0.7" />
<text x="366.80" y="215.96" font-size="6.2" text-anchor="end" stroke="#000" stroke-width="0.15">–0.6</text>
<text transform="translate(352.42,212.00) rotate(-90)" x="0" y="0" font-size="6.2" textLength="48.00" lengthAdjust="spacingAndGlyphs" stroke="#000" stroke-width="0.15">Enrichment score</text>
<line x1="375.00" y1="218.00" x2="375.00" y2="219.80" stroke="#555" stroke-width="0.7" />
<text x="375.00" y="224.75" font-size="6.0" text-anchor="middle" stroke="#000" stroke-width="0.15">0</text>
<line x1="401.00" y1="218.00" x2="401.00" y2="219.80" stroke="#555" stroke-width="0.7" />
<text x="401.00" y="224.75" font-size="6.0" text-anchor="middle" stroke="#000" stroke-width="0.15">5,000</text>
<line x1="427.00" y1="218.00" x2="427.00" y2="219.80" stroke="#555" stroke-width="0.7" />
<text x="427.00" y="224.75" font-size="6.0" text-anchor="middle" stroke="#000" stroke-width="0.15">10,000</text>
<line x1="453.00" y1="218.00" x2="453.00" y2="219.80" stroke="#555" stroke-width="0.7" />
<text x="453.00" y="224.75" font-size="6.0" text-anchor="middle" stroke="#000" stroke-width="0.15">15,000</text>
<line x1="479.00" y1="218.00" x2="479.00" y2="219.80" stroke="#555" stroke-width="0.7" />
<text x="479.00" y="224.75" font-size="6.0" text-anchor="middle" stroke="#000" stroke-width="0.15">20,000</text>
<line x1="505.00" y1="218.00" x2="505.00" y2="219.80" stroke="#555" stroke-width="0.7" />
<text x="505.00" y="224.75" font-size="6.0" text-anchor="middle" stroke="#000" stroke-width="0.15">25,000</text>
<text x="405.00" y="231.08" font-size="6.1" stroke="#000" stroke-width="0.15" textLength="64.20" lengthAdjust="spacingAndGlyphs" >Genes ranked by logFC</text>
<line x1="368.6" y1="177.8" x2="510" y2="177.8" stroke="#5e5e5e" stroke-width="1.3" stroke-dasharray="3.9 4.8"/>
<polyline points="374.80,176.50 375.28,175.96 375.95,175.15 376.77,174.49 377.70,174.40 378.72,175.11 379.86,176.37 381.12,177.84 382.50,179.20 383.97,180.35 385.55,181.47 387.28,182.66 389.20,184.00 391.39,185.56 393.81,187.28 396.32,189.06 398.80,190.80 401.22,192.49 403.66,194.18 406.09,195.86 408.50,197.50 410.93,199.15 413.37,200.81 415.75,202.38 418.00,203.80 420.13,205.06 422.16,206.19 424.06,207.18 425.80,208.00 427.33,208.68 428.67,209.22 429.93,209.55 431.20,209.60 432.55,209.41 433.91,208.99 435.19,208.25 436.30,207.10 437.18,205.45 437.89,203.36 438.53,201.00 439.20,198.50 439.93,195.76 440.65,192.76 441.37,189.75 442.10,187.00 442.85,184.52 443.61,182.17 444.34,180.07 445.00,178.30 445.61,176.90 446.18,175.81 446.66,174.99 447.00,174.40" fill="none" stroke="#f6b833" stroke-width="0.8" stroke-linejoin="round" />
<polyline points="375.00,176.00 375.62,175.72 376.50,175.33 377.51,174.89 378.50,174.50 379.40,174.06 380.30,173.56 381.30,173.23 382.50,173.30 383.92,173.94 385.50,174.98 387.26,176.19 389.20,177.30 391.39,178.24 393.81,179.14 396.32,180.09 398.80,181.20 401.22,182.52 403.66,183.99 406.09,185.51 408.50,187.00 410.88,188.43 413.25,189.85 415.62,191.27 418.00,192.70 420.41,194.21 422.84,195.78 425.28,197.26 427.70,198.50 430.13,199.46 432.56,200.22 434.97,200.83 437.30,201.30 439.63,201.68 441.95,201.93 444.12,202.02 446.00,201.90 447.51,201.64 448.73,201.23 449.79,200.53 450.80,199.40 451.78,197.70 452.68,195.54 453.48,193.16 454.20,190.80 454.81,188.38 455.33,185.82 455.78,183.36 456.20,181.20 456.60,179.39 456.96,177.82 457.26,176.49 457.50,175.40 457.65,174.61 457.73,174.09 457.77,173.75 457.80,173.50" fill="none" stroke="#ec5a50" stroke-width="0.8" stroke-linejoin="round" />
<polyline points="375.00,177.80 376.71,178.24 379.14,178.86 382.00,179.58 385.00,180.30 388.17,181.02 391.64,181.79 395.23,182.56 398.80,183.30 402.31,183.99 405.84,184.66 409.41,185.33 413.00,186.00 416.70,186.66 420.47,187.31 424.18,188.00 427.70,188.80 430.98,189.74 434.09,190.79 437.09,191.90 440.00,193.00 442.84,194.11 445.59,195.24 448.25,196.38 450.80,197.50 453.19,198.59 455.45,199.66 457.68,200.72 460.00,201.80 462.44,202.92 464.95,204.06 467.48,205.18 470.00,206.20 472.55,207.13 475.12,207.99 477.64,208.79 480.00,209.50 482.19,210.14 484.25,210.71 486.19,211.20 488.00,211.60 489.66,211.91 491.19,212.13 492.62,212.26 494.00,212.30 495.36,212.25 496.66,212.10 497.88,211.85 499.00,211.50 500.01,211.15 500.92,210.76 501.74,210.12 502.50,209.00 503.19,207.28 503.79,205.09 504.33,202.61 504.80,200.00 505.19,197.19 505.49,194.12 505.75,191.00 506.00,188.00 506.24,185.04 506.46,182.06 506.65,179.30 506.80,177.00 506.90,175.21 506.95,173.81 506.98,172.76 507.00,172.00" fill="none" stroke="#86c3ea" stroke-width="0.8" stroke-linejoin="round" />
<text x="473.50" y="161.28" font-size="5.8" font-weight="bold" stroke="#000" stroke-width="0.15" textLength="8.30" lengthAdjust="spacingAndGlyphs" >ES</text>
<text x="494.10" y="161.28" font-size="5.8" font-weight="bold" stroke="#000" stroke-width="0.15" textLength="12.60" lengthAdjust="spacingAndGlyphs" >FDR</text>
<text x="445.00" y="167.81" font-size="5.9" font-style="italic" fill="#86c3ea" stroke="#86c3ea" stroke-width="0.15" textLength="17.80" lengthAdjust="spacingAndGlyphs" >LUAD</text>
<text x="468.90" y="167.81" font-size="5.9" font-style="italic" fill="#86c3ea" stroke="#86c3ea" stroke-width="0.15" textLength="19.00" lengthAdjust="spacingAndGlyphs" >−0.588</text>
<text x="493.40" y="167.81" font-size="5.9" font-style="italic" fill="#86c3ea" stroke="#86c3ea" stroke-width="0.15" textLength="15.60" lengthAdjust="spacingAndGlyphs" >&lt;1e-5</text>
<text x="446.50" y="173.31" font-size="5.9" font-weight="bold" font-style="italic" fill="#e8473b" stroke="#e8473b" stroke-width="0.15" textLength="16.50" lengthAdjust="spacingAndGlyphs" >LUAD</text>
<text x="468.60" y="173.31" font-size="5.9" font-weight="bold" font-style="italic" fill="#e8473b" stroke="#e8473b" stroke-width="0.15" textLength="19.00" lengthAdjust="spacingAndGlyphs" >−0.403</text>
<text x="493.70" y="173.31" font-size="5.9" font-weight="bold" font-style="italic" fill="#e8473b" stroke="#e8473b" stroke-width="0.15" textLength="14.10" lengthAdjust="spacingAndGlyphs" >&lt;1e-5</text>
<text x="446.00" y="179.51" font-size="5.9" font-style="italic" fill="#f7d27a" stroke="#f7d27a" stroke-width="0.15" textLength="17.00" lengthAdjust="spacingAndGlyphs" >CCA</text>
<text x="468.60" y="179.51" font-size="5.9" font-style="italic" fill="#f7d27a" stroke="#f7d27a" stroke-width="0.15" textLength="19.00" lengthAdjust="spacingAndGlyphs" >−0.530</text>
<text x="493.70" y="179.51" font-size="5.9" font-style="italic" fill="#f7d27a" stroke="#f7d27a" stroke-width="0.15" textLength="14.10" lengthAdjust="spacingAndGlyphs" >&lt;1e-5</text>
<rect x="358.00" y="233.80" width="155.00" height="5.00" fill="#d9d9d9" stroke="#8c8c8c" stroke-width="0.6" />
<text x="389.50" y="239.06" font-size="6.3" stroke="#000" stroke-width="0.15" textLength="95.40" lengthAdjust="spacingAndGlyphs" >FOSL1shvsGFPsh_H2009 (LUAD)</text>
<rect x="365.60" y="240.00" width="0.85" height="27.40" fill="#9dd2f2" />
<rect x="366.40" y="240.00" width="1.25" height="27.40" fill="#b2dcf5" />
<rect x="367.60" y="240.00" width="1.25" height="27.40" fill="#d2eaf8" />
<rect x="368.80" y="240.00" width="2.55" height="27.40" fill="#9dd2f2" />
<rect x="371.30" y="240.00" width="1.55" height="27.40" fill="#90ccf0" />
<rect x="372.80" y="240.00" width="1.55" height="27.40" fill="#90ccf0" />
<rect x="374.30" y="240.00" width="0.65" height="27.40" fill="#90ccf0" />
<rect x="374.90" y="240.00" width="1.55" height="27.40" fill="#9dd2f2" />
<rect x="376.40" y="240.00" width="0.85" height="27.40" fill="#f4f9fd" />
<rect x="377.20" y="240.00" width="0.85" height="27.40" fill="#84c6ee" />
<rect x="378.00" y="240.00" width="2.05" height="27.40" fill="#90ccf0" />
<rect x="380.00" y="240.00" width="2.05" height="27.40" fill="#f4f9fd" />
<rect x="382.00" y="240.00" width="1.25" height="27.40" fill="#b2dcf5" />
<rect x="383.20" y="240.00" width="0.65" height="27.40" fill="#84c6ee" />
<rect x="383.80" y="240.00" width="1.55" height="27.40" fill="#9dd2f2" />
<rect x="385.30" y="240.00" width="0.65" height="27.40" fill="#b2dcf5" />
<rect x="385.90" y="240.00" width="1.05" height="27.40" fill="#90ccf0" />
<rect x="386.90" y="240.00" width="2.05" height="27.40" fill="#d2eaf8" />
<rect x="388.90" y="240.00" width="0.65" height="27.40" fill="#f4f9fd" />
<rect x="389.50" y="240.00" width="0.65" height="27.40" fill="#9dd2f2" />
<rect x="390.10" y="240.00" width="1.55" height="27.40" fill="#f4f9fd" />
<rect x="391.60" y="240.00" width="1.25" height="27.40" fill="#9dd2f2" />
<rect x="392.80" y="240.00" width="0.85" height="27.40" fill="#b2dcf5" />
<rect x="393.60" y="240.00" width="1.25" height="27.40" fill="#d2eaf8" />
<rect x="394.80" y="240.00" width="0.85" height="27.40" fill="#90ccf0" />
<rect x="395.60" y="240.00" width="0.85" height="27.40" fill="#90ccf0" />
<rect x="396.40" y="240.00" width="2.55" height="27.40" fill="#d2eaf8" />
<rect x="398.90" y="240.00" width="2.55" height="27.40" fill="#84c6ee" />
<rect x="401.40" y="240.00" width="1.55" height="27.40" fill="#84c6ee" />
<rect x="402.90" y="240.00" width="0.65" height="27.40" fill="#90ccf0" />
<rect x="403.50" y="240.00" width="1.25" height="27.40" fill="#9dd2f2" />
<rect x="404.70" y="240.00" width="1.25" height="27.40" fill="#90ccf0" />
<rect x="405.90" y="240.00" width="0.85" height="27.40" fill="#d2eaf8" />
<rect x="406.70" y="240.00" width="1.25" height="27.40" fill="#90ccf0" />
<rect x="407.90" y="240.00" width="1.25" height="27.40" fill="#9dd2f2" />
<rect x="409.10" y="240.00" width="1.05" height="27.40" fill="#84c6ee" />
<rect x="410.10" y="240.00" width="1.25" height="27.40" fill="#90ccf0" />
<rect x="411.30" y="240.00" width="2.55" height="27.40" fill="#90ccf0" />
<rect x="413.80" y="240.00" width="2.05" height="27.40" fill="#b2dcf5" />
<rect x="415.80" y="240.00" width="1.25" height="27.40" fill="#90ccf0" />
<rect x="417.00" y="240.00" width="0.65" height="27.40" fill="#9dd2f2" />
<rect x="417.60" y="240.00" width="2.05" height="27.40" fill="#9dd2f2" />
<rect x="419.60" y="240.00" width="1.55" height="27.40" fill="#b2dcf5" />
<rect x="421.10" y="240.00" width="1.55" height="27.40" fill="#84c6ee" />
<rect x="422.60" y="240.00" width="0.65" height="27.40" fill="#90ccf0" />
<rect x="423.20" y="240.00" width="0.85" height="27.40" fill="#b2dcf5" />
<rect x="424.00" y="240.00" width="2.55" height="27.40" fill="#84c6ee" />
<rect x="426.50" y="240.00" width="1.05" height="27.40" fill="#f4f9fd" />
<rect x="427.50" y="240.00" width="1.05" height="27.40" fill="#90ccf0" />
<rect x="428.50" y="240.00" width="0.85" height="27.40" fill="#90ccf0" />
<rect x="429.30" y="240.00" width="2.55" height="27.40" fill="#90ccf0" />
<rect x="431.80" y="240.00" width="1.25" height="27.40" fill="#9dd2f2" />
<rect x="433.00" y="240.00" width="2.05" height="27.40" fill="#90ccf0" />
<rect x="435.00" y="240.00" width="1.55" height="27.40" fill="#d2eaf8" />
<rect x="436.50" y="240.00" width="0.85" height="27.40" fill="#9dd2f2" />
<rect x="437.30" y="240.00" width="0.85" height="27.40" fill="#84c6ee" />
<rect x="438.10" y="240.00" width="1.55" height="27.40" fill="#90ccf0" />
<rect x="439.60" y="240.00" width="1.05" height="27.40" fill="#9dd2f2" />
<rect x="440.60" y="240.00" width="1.25" height="27.40" fill="#b2dcf5" />
<rect x="441.80" y="240.00" width="0.85" height="27.40" fill="#90ccf0" />
<rect x="442.60" y="240.00" width="0.65" height="27.40" fill="#9dd2f2" />
<rect x="443.20" y="240.00" width="1.25" height="27.40" fill="#f4f9fd" />
<rect x="444.40" y="240.00" width="1.25" height="27.40" fill="#90ccf0" />
<rect x="445.60" y="240.00" width="1.05" height="27.40" fill="#90ccf0" />
<rect x="446.60" y="240.00" width="1.05" height="27.40" fill="#b2dcf5" />
<rect x="447.60" y="240.00" width="0.65" height="27.40" fill="#9dd2f2" />
<rect x="448.20" y="240.00" width="0.85" height="27.40" fill="#9dd2f2" />
<rect x="449.00" y="240.00" width="2.55" height="27.40" fill="#9dd2f2" />
<rect x="451.50" y="240.00" width="0.85" height="27.40" fill="#84c6ee" />
<rect x="452.30" y="240.00" width="2.05" height="27.40" fill="#f4f9fd" />
<rect x="454.30" y="240.00" width="0.65" height="27.40" fill="#90ccf0" />
<rect x="454.90" y="240.00" width="2.05" height="27.40" fill="#9dd2f2" />
<rect x="456.90" y="240.00" width="2.05" height="27.40" fill="#9dd2f2" />
<rect x="458.90" y="240.00" width="0.85" height="27.40" fill="#d2eaf8" />
<rect x="459.70" y="240.00" width="1.05" height="27.40" fill="#f4f9fd" />
<rect x="460.70" y="240.00" width="1.05" height="27.40" fill="#b2dcf5" />
<rect x="461.70" y="240.00" width="1.25" height="27.40" fill="#9dd2f2" />
<rect x="462.90" y="240.00" width="2.55" height="27.40" fill="#9dd2f2" />
<rect x="465.40" y="240.00" width="0.85" height="27.40" fill="#9dd2f2" />
<rect x="466.20" y="240.00" width="1.05" height="27.40" fill="#90ccf0" />
<rect x="467.20" y="240.00" width="2.05" height="27.40" fill="#90ccf0" />
<rect x="469.20" y="240.00" width="2.05" height="27.40" fill="#90ccf0" />
<rect x="471.20" y="240.00" width="2.05" height="27.40" fill="#90ccf0" />
<rect x="473.20" y="240.00" width="1.55" height="27.40" fill="#9dd2f2" />
<rect x="474.70" y="240.00" width="0.85" height="27.40" fill="#d2eaf8" />
<rect x="475.50" y="240.00" width="1.55" height="27.40" fill="#9dd2f2" />
<rect x="477.00" y="240.00" width="2.05" height="27.40" fill="#9dd2f2" />
<rect x="479.00" y="240.00" width="2.55" height="27.40" fill="#d2eaf8" />
<rect x="481.50" y="240.00" width="0.85" height="27.40" fill="#90ccf0" />
<rect x="482.30" y="240.00" width="1.25" height="27.40" fill="#90ccf0" />
<rect x="483.50" y="240.00" width="0.65" height="27.40" fill="#b2dcf5" />
<rect x="484.10" y="240.00" width="2.55" height="27.40" fill="#90ccf0" />
<rect x="486.60" y="240.00" width="2.55" height="27.40" fill="#90ccf0" />
<rect x="489.10" y="240.00" width="1.05" height="27.40" fill="#90ccf0" />
<rect x="490.10" y="240.00" width="1.55" height="27.40" fill="#84c6ee" />
<rect x="491.60" y="240.00" width="1.25" height="27.40" fill="#9dd2f2" />
<rect x="492.80" y="240.00" width="0.85" height="27.40" fill="#b2dcf5" />
<rect x="493.60" y="240.00" width="0.85" height="27.40" fill="#90ccf0" />
<rect x="494.40" y="240.00" width="1.25" height="27.40" fill="#90ccf0" />
<rect x="495.60" y="240.00" width="2.05" height="27.40" fill="#9dd2f2" />
<rect x="497.60" y="240.00" width="0.65" height="27.40" fill="#b2dcf5" />
<rect x="498.20" y="240.00" width="1.55" height="27.40" fill="#d2eaf8" />
<rect x="499.70" y="240.00" width="2.55" height="27.40" fill="#90ccf0" />
<rect x="502.20" y="240.00" width="0.65" height="27.40" fill="#9dd2f2" />
<rect x="502.80" y="240.00" width="2.55" height="27.40" fill="#90ccf0" />
<rect x="505.30" y="240.00" width="0.75" height="27.40" fill="#b2dcf5" />
<rect x="358.00" y="271.30" width="155.00" height="5.00" fill="#d9d9d9" stroke="#8c8c8c" stroke-width="0.6" />
<text x="377.50" y="276.56" font-size="6.3" stroke="#000" stroke-width="0.15" textLength="118.30" lengthAdjust="spacingAndGlyphs" >TET-FOSL1shvsTET-GFPsh_H358 (LUAD)</text>
<rect x="365.60" y="278.00" width="88.40" height="27.00" fill="#ec5945" />
<rect x="438.33" y="278.00" width="1.80" height="27.00" fill="#f07562" />
<rect x="452.79" y="278.00" width="1.06" height="27.00" fill="#f07562" />
<rect x="424.19" y="278.00" width="1.07" height="27.00" fill="#f07562" />
<rect x="431.88" y="278.00" width="0.93" height="27.00" fill="#f07562" />
<rect x="427.35" y="278.00" width="1.01" height="27.00" fill="#f07562" />
<rect x="431.92" y="278.00" width="1.81" height="27.00" fill="#f07562" />
<rect x="440.91" y="278.00" width="1.42" height="27.00" fill="#f07562" />
<rect x="375.57" y="278.00" width="2.18" height="27.00" fill="#f07562" />
<rect x="448.84" y="278.00" width="1.52" height="27.00" fill="#f07562" />
<rect x="404.05" y="278.00" width="1.83" height="27.00" fill="#f07562" />
<rect x="448.31" y="278.00" width="1.61" height="27.00" fill="#e44a37" />
<rect x="431.94" y="278.00" width="1.17" height="27.00" fill="#e44a37" />
<rect x="379.12" y="278.00" width="2.69" height="27.00" fill="#e44a37" />
<rect x="392.09" y="278.00" width="1.65" height="27.00" fill="#e44a37" />
<rect x="397.28" y="278.00" width="2.08" height="27.00" fill="#e44a37" />
<rect x="444.76" y="278.00" width="2.79" height="27.00" fill="#e44a37" />
<rect x="443.24" y="278.00" width="1.63" height="27.00" fill="#e44a37" />
<rect x="374.06" y="278.00" width="1.14" height="27.00" fill="#e44a37" />
<rect x="435.57" y="278.00" width="0.83" height="27.00" fill="#f6b0a6" />
<rect x="452.39" y="278.00" width="0.91" height="27.00" fill="#f6b0a6" />
<rect x="388.90" y="278.00" width="0.93" height="27.00" fill="#f6b0a6" />
<rect x="446.53" y="278.00" width="0.87" height="27.00" fill="#f6b0a6" />
<rect x="409.04" y="278.00" width="0.55" height="27.00" fill="#f6b0a6" />
<rect x="378.17" y="278.00" width="0.58" height="27.00" fill="#f6b0a6" />
<rect x="424.37" y="278.00" width="0.74" height="27.00" fill="#f6b0a6" />
<rect x="377.08" y="278.00" width="0.99" height="27.00" fill="#f6b0a6" />
<rect x="453.02" y="278.00" width="0.75" height="27.00" fill="#f6b0a6" />
<rect x="412.17" y="278.00" width="0.88" height="27.00" fill="#f6b0a6" />
<rect x="420.99" y="278.00" width="0.62" height="27.00" fill="#fdf0ee" />
<rect x="422.12" y="278.00" width="0.63" height="27.00" fill="#fdf0ee" />
<rect x="399.87" y="278.00" width="0.82" height="27.00" fill="#fdf0ee" />
<rect x="400.91" y="278.00" width="0.90" height="27.00" fill="#fdf0ee" />
<rect x="438.51" y="278.00" width="0.73" height="27.00" fill="#fdf0ee" />
<rect x="381.88" y="278.00" width="0.63" height="27.00" fill="#fdf0ee" />
<rect x="403.67" y="278.00" width="0.79" height="27.00" fill="#fdf0ee" />
<rect x="387.37" y="278.00" width="0.94" height="27.00" fill="#fdf0ee" />
<rect x="370.67" y="278.00" width="0.69" height="27.00" fill="#fdf0ee" />
<rect x="393.00" y="278.00" width="0.73" height="27.00" fill="#fdf0ee" />
<rect x="432.58" y="278.00" width="0.72" height="27.00" fill="#fdf0ee" />
<rect x="452.54" y="278.00" width="0.52" height="27.00" fill="#fdf0ee" />
<rect x="436.63" y="278.00" width="0.86" height="27.00" fill="#fdf0ee" />
<rect x="416.11" y="278.00" width="0.77" height="27.00" fill="#fdf0ee" />
<rect x="400.34" y="278.00" width="0.70" height="27.00" fill="#fdf0ee" />
<rect x="392.20" y="278.00" width="0.61" height="27.00" fill="#fdf0ee" />
<rect x="454.00" y="278.00" width="8.00" height="27.00" fill="url(#fade24)" />
<rect x="358.00" y="308.80" width="155.00" height="5.00" fill="#d9d9d9" stroke="#8c8c8c" stroke-width="0.6" />
<text x="396.30" y="314.06" font-size="6.3" stroke="#000" stroke-width="0.15" textLength="78.00" lengthAdjust="spacingAndGlyphs" >shFOSL1vsGFP_EGI (CCA)</text>
<rect x="365.60" y="315.70" width="77.40" height="26.80" fill="#f8b82a" />
<rect x="436.10" y="315.70" width="1.33" height="26.80" fill="#fac44a" />
<rect x="381.74" y="315.70" width="1.98" height="26.80" fill="#fac44a" />
<rect x="413.58" y="315.70" width="2.02" height="26.80" fill="#fac44a" />
<rect x="438.54" y="315.70" width="0.86" height="26.80" fill="#fac44a" />
<rect x="388.92" y="315.70" width="1.16" height="26.80" fill="#fac44a" />
<rect x="410.33" y="315.70" width="1.39" height="26.80" fill="#fac44a" />
<rect x="418.08" y="315.70" width="0.97" height="26.80" fill="#fac44a" />
<rect x="404.25" y="315.70" width="1.97" height="26.80" fill="#fac44a" />
<rect x="412.78" y="315.70" width="1.91" height="26.80" fill="#fac44a" />
<rect x="379.25" y="315.70" width="1.95" height="26.80" fill="#fac44a" />
<rect x="401.13" y="315.70" width="1.72" height="26.80" fill="#f5ad18" />
<rect x="439.74" y="315.70" width="1.21" height="26.80" fill="#f5ad18" />
<rect x="372.98" y="315.70" width="2.27" height="26.80" fill="#f5ad18" />
<rect x="396.78" y="315.70" width="2.17" height="26.80" fill="#f5ad18" />
<rect x="377.83" y="315.70" width="1.38" height="26.80" fill="#f5ad18" />
<rect x="370.91" y="315.70" width="1.92" height="26.80" fill="#f5ad18" />
<rect x="404.36" y="315.70" width="2.13" height="26.80" fill="#f5ad18" />
<rect x="432.24" y="315.70" width="1.25" height="26.80" fill="#f5ad18" />
<rect x="378.83" y="315.70" width="0.52" height="26.80" fill="#fce0a0" />
<rect x="382.49" y="315.70" width="0.91" height="26.80" fill="#fce0a0" />
<rect x="408.51" y="315.70" width="0.71" height="26.80" fill="#fce0a0" />
<rect x="403.49" y="315.70" width="0.72" height="26.80" fill="#fce0a0" />
<rect x="402.60" y="315.70" width="0.75" height="26.80" fill="#fce0a0" />
<rect x="428.35" y="315.70" width="0.53" height="26.80" fill="#fce0a0" />
<rect x="369.26" y="315.70" width="0.64" height="26.80" fill="#fce0a0" />
<rect x="428.06" y="315.70" width="0.70" height="26.80" fill="#fce0a0" />
<rect x="400.62" y="315.70" width="0.81" height="26.80" fill="#fce0a0" />
<rect x="382.44" y="315.70" width="0.74" height="26.80" fill="#fce0a0" />
<rect x="392.44" y="315.70" width="0.81" height="26.80" fill="#fffaf0" />
<rect x="375.60" y="315.70" width="0.53" height="26.80" fill="#fffaf0" />
<rect x="418.21" y="315.70" width="0.55" height="26.80" fill="#fffaf0" />
<rect x="423.36" y="315.70" width="0.94" height="26.80" fill="#fffaf0" />
<rect x="376.89" y="315.70" width="0.61" height="26.80" fill="#fffaf0" />
<rect x="394.18" y="315.70" width="0.98" height="26.80" fill="#fffaf0" />
<rect x="409.50" y="315.70" width="0.58" height="26.80" fill="#fffaf0" />
<rect x="407.01" y="315.70" width="0.81" height="26.80" fill="#fffaf0" />
<rect x="388.89" y="315.70" width="0.73" height="26.80" fill="#fffaf0" />
<rect x="400.67" y="315.70" width="0.75" height="26.80" fill="#fffaf0" />
<rect x="399.92" y="315.70" width="0.84" height="26.80" fill="#fffaf0" />
<rect x="441.26" y="315.70" width="0.68" height="26.80" fill="#fffaf0" />
<rect x="423.66" y="315.70" width="0.56" height="26.80" fill="#fffaf0" />
<rect x="427.37" y="315.70" width="0.71" height="26.80" fill="#fffaf0" />
<rect x="408.94" y="315.70" width="0.85" height="26.80" fill="#fffaf0" />
<rect x="383.18" y="315.70" width="0.81" height="26.80" fill="#fffaf0" />
<rect x="443.00" y="315.70" width="7.00" height="26.80" fill="url(#fade25)" />
<text x="365.70" y="351.85" font-size="6.0" text-anchor="middle" stroke="#000" stroke-width="0.15">0</text>
<text x="393.42" y="351.85" font-size="6.0" text-anchor="middle" stroke="#000" stroke-width="0.15">5,000</text>
<text x="421.14" y="351.85" font-size="6.0" text-anchor="middle" stroke="#000" stroke-width="0.15">10,000</text>
<text x="448.86" y="351.85" font-size="6.0" text-anchor="middle" stroke="#000" stroke-width="0.15">15,000</text>
<text x="476.58" y="351.85" font-size="6.0" text-anchor="middle" stroke="#000" stroke-width="0.15">20,000</text>
<text x="504.30" y="351.85" font-size="6.0" text-anchor="middle" stroke="#000" stroke-width="0.15">25,000</text>
<text x="2.00" y="326.60" font-size="12.5" font-weight="bold" stroke="#000" stroke-width="0.15" >H</text>
<rect x="34.20" y="339.00" width="138.50" height="139.50" fill="#fff" />
<line x1="35.15" y1="339.00" x2="35.15" y2="478.50" stroke="#f3f3f3" stroke-width="0.5" />
<line x1="59.85" y1="339.00" x2="59.85" y2="478.50" stroke="#f3f3f3" stroke-width="0.5" />
<line x1="84.55" y1="339.00" x2="84.55" y2="478.50" stroke="#f3f3f3" stroke-width="0.5" />
<line x1="109.25" y1="339.00" x2="109.25" y2="478.50" stroke="#f3f3f3" stroke-width="0.5" />
<line x1="133.95" y1="339.00" x2="133.95" y2="478.50" stroke="#f3f3f3" stroke-width="0.5" />
<line x1="158.65" y1="339.00" x2="158.65" y2="478.50" stroke="#f3f3f3" stroke-width="0.5" />
<line x1="34.20" y1="476.25" x2="172.70" y2="476.25" stroke="#f3f3f3" stroke-width="0.5" />
<line x1="34.20" y1="436.75" x2="172.70" y2="436.75" stroke="#f3f3f3" stroke-width="0.5" />
<line x1="34.20" y1="397.25" x2="172.70" y2="397.25" stroke="#f3f3f3" stroke-width="0.5" />
<line x1="34.20" y1="357.75" x2="172.70" y2="357.75" stroke="#f3f3f3" stroke-width="0.5" />
<line x1="47.50" y1="339.00" x2="47.50" y2="478.50" stroke="#e6e6e6" stroke-width="0.8" />
<line x1="72.20" y1="339.00" x2="72.20" y2="478.50" stroke="#e6e6e6" stroke-width="0.8" />
<line x1="96.90" y1="339.00" x2="96.90" y2="478.50" stroke="#e6e6e6" stroke-width="0.8" />
<line x1="121.60" y1="339.00" x2="121.60" y2="478.50" stroke="#e6e6e6" stroke-width="0.8" />
<line x1="146.30" y1="339.00" x2="146.30" y2="478.50" stroke="#e6e6e6" stroke-width="0.8" />
<line x1="171.00" y1="339.00" x2="171.00" y2="478.50" stroke="#e6e6e6" stroke-width="0.8" />
<line x1="34.20" y1="456.50" x2="172.70" y2="456.50" stroke="#e6e6e6" stroke-width="0.8" />
<line x1="34.20" y1="417.00" x2="172.70" y2="417.00" stroke="#e6e6e6" stroke-width="0.8" />
<line x1="34.20" y1="377.50" x2="172.70" y2="377.50" stroke="#e6e6e6" stroke-width="0.8" />
<rect x="34.20" y="339.00" width="138.50" height="139.50" fill="none" stroke="#b3b3b3" stroke-width="0.9" />
<circle cx="64.3" cy="377.3" r="0.95" fill="#000"/>
<circle cx="84.7" cy="374.6" r="0.95" fill="#000"/>
<circle cx="95.9" cy="376.0" r="0.95" fill="#000"/>
<circle cx="71.3" cy="382.1" r="0.95" fill="#000"/>
<circle cx="80.4" cy="380.8" r="0.95" fill="#000"/>
<circle cx="70.3" cy="385.4" r="0.95" fill="#000"/>
<circle cx="85.1" cy="384.4" r="0.95" fill="#000"/>
<circle cx="102.4" cy="386.7" r="0.95" fill="#000"/>
<circle cx="52.8" cy="390.2" r="0.95" fill="#000"/>
<circle cx="67.6" cy="389.1" r="0.95" fill="#000"/>
<circle cx="76.4" cy="390.2" r="0.95" fill="#000"/>
<circle cx="85.1" cy="390.2" r="0.95" fill="#000"/>
<circle cx="93.9" cy="388.5" r="0.95" fill="#000"/>
<circle cx="63.6" cy="393.2" r="0.95" fill="#000"/>
<circle cx="83.8" cy="393.9" r="0.95" fill="#000"/>
<circle cx="90.5" cy="394.8" r="0.95" fill="#000"/>
<circle cx="100.6" cy="394.3" r="0.95" fill="#000"/>
<circle cx="40.5" cy="397.9" r="0.95" fill="#000"/>
<circle cx="46.1" cy="396.1" r="0.95" fill="#000"/>
<circle cx="56.6" cy="397.5" r="0.95" fill="#000"/>
<circle cx="57.6" cy="399.9" r="0.95" fill="#000"/>
<circle cx="52.2" cy="400.9" r="0.95" fill="#000"/>
<circle cx="61.6" cy="401.9" r="0.95" fill="#000"/>
<circle cx="74.8" cy="395.6" r="0.95" fill="#000"/>
<circle cx="74.4" cy="398.8" r="0.95" fill="#000"/>
<circle cx="79.8" cy="400.6" r="0.95" fill="#000"/>
<circle cx="84.5" cy="400.9" r="0.95" fill="#000"/>
<circle cx="87.2" cy="401.3" r="0.95" fill="#000"/>
<circle cx="86.9" cy="404.0" r="0.95" fill="#000"/>
<circle cx="76.8" cy="403.3" r="0.95" fill="#000"/>
<circle cx="78.1" cy="404.2" r="0.95" fill="#000"/>
<circle cx="69.7" cy="404.4" r="0.95" fill="#000"/>
<circle cx="93.2" cy="407.3" r="0.95" fill="#000"/>
<circle cx="102.6" cy="400.6" r="0.95" fill="#000"/>
<circle cx="102.6" cy="404.2" r="0.95" fill="#000"/>
<circle cx="137.0" cy="345.4" r="0.95" fill="#000"/>
<circle cx="105.3" cy="354.4" r="0.95" fill="#000"/>
<circle cx="108.4" cy="351.7" r="0.95" fill="#000"/>
<circle cx="128.6" cy="355.9" r="0.95" fill="#000"/>
<circle cx="143.4" cy="356.8" r="0.95" fill="#000"/>
<circle cx="151.4" cy="354.2" r="0.95" fill="#000"/>
<circle cx="148.8" cy="360.5" r="0.95" fill="#000"/>
<circle cx="108.0" cy="362.9" r="0.95" fill="#000"/>
<circle cx="116.8" cy="366.7" r="0.95" fill="#000"/>
<circle cx="108.0" cy="372.0" r="0.95" fill="#000"/>
<circle cx="124.2" cy="370.7" r="0.95" fill="#000"/>
<circle cx="130.2" cy="375.3" r="0.95" fill="#000"/>
<circle cx="141.4" cy="375.3" r="0.95" fill="#000"/>
<circle cx="136.3" cy="377.7" r="0.95" fill="#000"/>
<circle cx="158.9" cy="377.8" r="0.95" fill="#000"/>
<circle cx="111.0" cy="379.0" r="0.95" fill="#000"/>
<circle cx="124.9" cy="381.1" r="0.95" fill="#000"/>
<circle cx="130.2" cy="380.4" r="0.95" fill="#000"/>
<circle cx="118.1" cy="383.1" r="0.95" fill="#000"/>
<circle cx="117.5" cy="384.4" r="0.95" fill="#000"/>
<circle cx="106.7" cy="384.8" r="0.95" fill="#000"/>
<circle cx="122.8" cy="385.1" r="0.95" fill="#000"/>
<circle cx="157.8" cy="389.1" r="0.95" fill="#000"/>
<circle cx="104.7" cy="390.5" r="0.95" fill="#000"/>
<circle cx="113.7" cy="390.8" r="0.95" fill="#000"/>
<circle cx="165.9" cy="395.9" r="0.95" fill="#000"/>
<circle cx="106.7" cy="396.5" r="0.95" fill="#000"/>
<circle cx="115.8" cy="398.6" r="0.95" fill="#000"/>
<circle cx="112.7" cy="400.6" r="0.95" fill="#000"/>
<circle cx="110.1" cy="401.9" r="0.95" fill="#000"/>
<circle cx="129.8" cy="404.0" r="0.95" fill="#000"/>
<circle cx="104.0" cy="400.6" r="0.95" fill="#000"/>
<circle cx="60.9" cy="408.7" r="0.95" fill="#000"/>
<circle cx="77.1" cy="410.7" r="0.95" fill="#000"/>
<circle cx="69.0" cy="412.7" r="0.95" fill="#000"/>
<circle cx="58.9" cy="414.7" r="0.95" fill="#000"/>
<circle cx="71.4" cy="415.4" r="0.95" fill="#000"/>
<circle cx="88.1" cy="409.1" r="0.95" fill="#000"/>
<circle cx="93.2" cy="408.0" r="0.95" fill="#000"/>
<circle cx="101.0" cy="409.9" r="0.95" fill="#000"/>
<circle cx="98.3" cy="415.0" r="0.95" fill="#000"/>
<circle cx="97.0" cy="421.7" r="0.95" fill="#000"/>
<circle cx="50.4" cy="421.9" r="0.95" fill="#000"/>
<circle cx="70.6" cy="425.1" r="0.95" fill="#000"/>
<circle cx="73.4" cy="425.5" r="0.95" fill="#000"/>
<circle cx="77.5" cy="425.0" r="0.95" fill="#000"/>
<circle cx="78.4" cy="424.4" r="0.95" fill="#000"/>
<circle cx="44.5" cy="431.3" r="0.95" fill="#000"/>
<circle cx="55.5" cy="433.2" r="0.95" fill="#000"/>
<circle cx="56.6" cy="433.3" r="0.95" fill="#000"/>
<circle cx="66.0" cy="433.7" r="0.95" fill="#000"/>
<circle cx="80.4" cy="433.2" r="0.95" fill="#000"/>
<circle cx="71.0" cy="448.8" r="0.95" fill="#000"/>
<circle cx="58.0" cy="462.8" r="0.95" fill="#000"/>
<circle cx="78.1" cy="472.6" r="0.95" fill="#000"/>
<circle cx="115.4" cy="413.8" r="0.95" fill="#000"/>
<circle cx="121.5" cy="411.0" r="0.95" fill="#000"/>
<circle cx="105.6" cy="422.1" r="0.95" fill="#000"/>
<circle cx="123.2" cy="425.8" r="0.95" fill="#000"/>
<circle cx="100.8" cy="409.6" r="0.95" fill="#000"/>
<line x1="40.30" y1="420.00" x2="166.60" y2="366.70" stroke="#333" stroke-width="0.9" />
<line x1="32.60" y1="456.50" x2="34.20" y2="456.50" stroke="#4d4d4d" stroke-width="0.6" />
<text x="31.90" y="459.01" font-size="7.0" text-anchor="end" fill="#4d4d4d" stroke="#4d4d4d" stroke-width="0.15">6</text>
<line x1="32.60" y1="417.00" x2="34.20" y2="417.00" stroke="#4d4d4d" stroke-width="0.6" />
<text x="31.90" y="419.51" font-size="7.0" text-anchor="end" fill="#4d4d4d" stroke="#4d4d4d" stroke-width="0.15">8</text>
<line x1="32.60" y1="377.50" x2="34.20" y2="377.50" stroke="#4d4d4d" stroke-width="0.6" />
<text x="31.90" y="380.01" font-size="7.0" text-anchor="end" fill="#4d4d4d" stroke="#4d4d4d" stroke-width="0.15">10</text>
<line x1="47.50" y1="478.50" x2="47.50" y2="480.10" stroke="#4d4d4d" stroke-width="0.6" />
<text x="47.50" y="487.11" font-size="7.0" text-anchor="middle" fill="#4d4d4d" stroke="#4d4d4d" stroke-width="0.15">0</text>
<line x1="72.20" y1="478.50" x2="72.20" y2="480.10" stroke="#4d4d4d" stroke-width="0.6" />
<text x="72.20" y="487.11" font-size="7.0" text-anchor="middle" fill="#4d4d4d" stroke="#4d4d4d" stroke-width="0.15">1</text>
<line x1="96.90" y1="478.50" x2="96.90" y2="480.10" stroke="#4d4d4d" stroke-width="0.6" />
<text x="96.90" y="487.11" font-size="7.0" text-anchor="middle" fill="#4d4d4d" stroke="#4d4d4d" stroke-width="0.15">2</text>
<line x1="121.60" y1="478.50" x2="121.60" y2="480.10" stroke="#4d4d4d" stroke-width="0.6" />
<text x="121.60" y="487.11" font-size="7.0" text-anchor="middle" fill="#4d4d4d" stroke="#4d4d4d" stroke-width="0.15">3</text>
<line x1="146.30" y1="478.50" x2="146.30" y2="480.10" stroke="#4d4d4d" stroke-width="0.6" />
<text x="146.30" y="487.11" font-size="7.0" text-anchor="middle" fill="#4d4d4d" stroke="#4d4d4d" stroke-width="0.15">4</text>
<line x1="171.00" y1="478.50" x2="171.00" y2="480.10" stroke="#4d4d4d" stroke-width="0.6" />
<text x="171.00" y="487.11" font-size="7.0" text-anchor="middle" fill="#4d4d4d" stroke="#4d4d4d" stroke-width="0.15">5</text>
<text x="94.40" y="326.12" font-size="9.0" font-weight="bold" stroke="#000" stroke-width="0.15" textLength="21.80" lengthAdjust="spacingAndGlyphs" >ICGC</text>
<text x="56.70" y="336.06" font-size="8.0" fill="#222" stroke="#222" stroke-width="0.15" textLength="98.30" lengthAdjust="spacingAndGlyphs" >cor = 0.529 (<tspan font-style="italic">P</tspan> = 3.07e–08)</text>
<text x="98.80" y="496.24" font-size="8.2" font-style="italic" fill="#333" stroke="#333" stroke-width="0.15" textLength="25.40" lengthAdjust="spacingAndGlyphs" >FOSL1</text>
<text transform="translate(22.94,420.50) rotate(-90)" x="0" y="0" font-size="8.2" textLength="27.20" lengthAdjust="spacingAndGlyphs" font-style="italic" fill="#333" stroke="#333" stroke-width="0.15">LAMC2</text>
<text x="3.20" y="512.30" font-size="11.5" font-weight="bold" stroke="#000" stroke-width="0.15" >I</text>
<rect x="36.10" y="525.50" width="138.10" height="138.00" fill="#fff" />
<line x1="38.72" y1="525.50" x2="38.72" y2="663.50" stroke="#f3f3f3" stroke-width="0.5" />
<line x1="75.48" y1="525.50" x2="75.48" y2="663.50" stroke="#f3f3f3" stroke-width="0.5" />
<line x1="112.24" y1="525.50" x2="112.24" y2="663.50" stroke="#f3f3f3" stroke-width="0.5" />
<line x1="149.00" y1="525.50" x2="149.00" y2="663.50" stroke="#f3f3f3" stroke-width="0.5" />
<line x1="36.10" y1="647.35" x2="174.20" y2="647.35" stroke="#f3f3f3" stroke-width="0.5" />
<line x1="36.10" y1="604.65" x2="174.20" y2="604.65" stroke="#f3f3f3" stroke-width="0.5" />
<line x1="36.10" y1="561.95" x2="174.20" y2="561.95" stroke="#f3f3f3" stroke-width="0.5" />
<line x1="57.10" y1="525.50" x2="57.10" y2="663.50" stroke="#e6e6e6" stroke-width="0.8" />
<line x1="93.86" y1="525.50" x2="93.86" y2="663.50" stroke="#e6e6e6" stroke-width="0.8" />
<line x1="130.62" y1="525.50" x2="130.62" y2="663.50" stroke="#e6e6e6" stroke-width="0.8" />
<line x1="167.38" y1="525.50" x2="167.38" y2="663.50" stroke="#e6e6e6" stroke-width="0.8" />
<line x1="36.10" y1="626.00" x2="174.20" y2="626.00" stroke="#e6e6e6" stroke-width="0.8" />
<line x1="36.10" y1="583.30" x2="174.20" y2="583.30" stroke="#e6e6e6" stroke-width="0.8" />
<line x1="36.10" y1="540.60" x2="174.20" y2="540.60" stroke="#e6e6e6" stroke-width="0.8" />
<rect x="36.10" y="525.50" width="138.10" height="138.00" fill="none" stroke="#b3b3b3" stroke-width="0.9" />
<circle cx="91.2" cy="552.3" r="0.95" fill="#000"/>
<circle cx="97.2" cy="558.9" r="0.95" fill="#000"/>
<circle cx="73.0" cy="561.1" r="0.95" fill="#000"/>
<circle cx="88.5" cy="563.0" r="0.95" fill="#000"/>
<circle cx="82.2" cy="573.5" r="0.95" fill="#000"/>
<circle cx="84.2" cy="576.8" r="0.95" fill="#000"/>
<circle cx="92.5" cy="577.8" r="0.95" fill="#000"/>
<circle cx="89.8" cy="579.1" r="0.95" fill="#000"/>
<circle cx="91.2" cy="581.5" r="0.95" fill="#000"/>
<circle cx="97.6" cy="582.2" r="0.95" fill="#000"/>
<circle cx="98.2" cy="583.1" r="0.95" fill="#000"/>
<circle cx="86.1" cy="584.2" r="0.95" fill="#000"/>
<circle cx="67.8" cy="583.1" r="0.95" fill="#000"/>
<circle cx="101.9" cy="585.2" r="0.95" fill="#000"/>
<circle cx="102.9" cy="586.2" r="0.95" fill="#000"/>
<circle cx="68.3" cy="590.3" r="0.95" fill="#000"/>
<circle cx="77.3" cy="591.0" r="0.95" fill="#000"/>
<circle cx="90.9" cy="589.6" r="0.95" fill="#000"/>
<circle cx="91.2" cy="593.0" r="0.95" fill="#000"/>
<circle cx="99.0" cy="591.4" r="0.95" fill="#000"/>
<circle cx="98.2" cy="594.3" r="0.95" fill="#000"/>
<circle cx="105.7" cy="572.4" r="0.95" fill="#000"/>
<circle cx="167.9" cy="531.1" r="0.95" fill="#000"/>
<circle cx="107.6" cy="545.9" r="0.95" fill="#000"/>
<circle cx="113.2" cy="552.9" r="0.95" fill="#000"/>
<circle cx="132.7" cy="557.3" r="0.95" fill="#000"/>
<circle cx="113.2" cy="559.7" r="0.95" fill="#000"/>
<circle cx="117.5" cy="560.3" r="0.95" fill="#000"/>
<circle cx="118.8" cy="561.6" r="0.95" fill="#000"/>
<circle cx="119.1" cy="565.1" r="0.95" fill="#000"/>
<circle cx="129.6" cy="569.1" r="0.95" fill="#000"/>
<circle cx="128.9" cy="570.1" r="0.95" fill="#000"/>
<circle cx="136.3" cy="569.1" r="0.95" fill="#000"/>
<circle cx="106.7" cy="572.1" r="0.95" fill="#000"/>
<circle cx="111.0" cy="572.8" r="0.95" fill="#000"/>
<circle cx="107.0" cy="575.1" r="0.95" fill="#000"/>
<circle cx="119.1" cy="575.1" r="0.95" fill="#000"/>
<circle cx="115.4" cy="577.1" r="0.95" fill="#000"/>
<circle cx="112.9" cy="577.9" r="0.95" fill="#000"/>
<circle cx="106.7" cy="579.9" r="0.95" fill="#000"/>
<circle cx="110.7" cy="581.3" r="0.95" fill="#000"/>
<circle cx="111.4" cy="582.9" r="0.95" fill="#000"/>
<circle cx="121.5" cy="582.9" r="0.95" fill="#000"/>
<circle cx="126.9" cy="580.9" r="0.95" fill="#000"/>
<circle cx="116.8" cy="583.5" r="0.95" fill="#000"/>
<circle cx="118.1" cy="584.5" r="0.95" fill="#000"/>
<circle cx="159.2" cy="575.9" r="0.95" fill="#000"/>
<circle cx="152.2" cy="580.5" r="0.95" fill="#000"/>
<circle cx="146.8" cy="584.2" r="0.95" fill="#000"/>
<circle cx="144.1" cy="587.9" r="0.95" fill="#000"/>
<circle cx="125.5" cy="586.6" r="0.95" fill="#000"/>
<circle cx="123.5" cy="588.0" r="0.95" fill="#000"/>
<circle cx="111.4" cy="586.9" r="0.95" fill="#000"/>
<circle cx="110.1" cy="589.6" r="0.95" fill="#000"/>
<circle cx="114.1" cy="594.3" r="0.95" fill="#000"/>
<circle cx="112.7" cy="594.3" r="0.95" fill="#000"/>
<circle cx="134.7" cy="593.9" r="0.95" fill="#000"/>
<circle cx="50.1" cy="600.4" r="0.95" fill="#000"/>
<circle cx="66.3" cy="602.2" r="0.95" fill="#000"/>
<circle cx="68.3" cy="600.0" r="0.95" fill="#000"/>
<circle cx="70.3" cy="599.5" r="0.95" fill="#000"/>
<circle cx="81.1" cy="598.1" r="0.95" fill="#000"/>
<circle cx="86.1" cy="597.7" r="0.95" fill="#000"/>
<circle cx="78.0" cy="600.4" r="0.95" fill="#000"/>
<circle cx="81.8" cy="602.7" r="0.95" fill="#000"/>
<circle cx="75.0" cy="604.8" r="0.95" fill="#000"/>
<circle cx="67.2" cy="608.1" r="0.95" fill="#000"/>
<circle cx="83.8" cy="606.2" r="0.95" fill="#000"/>
<circle cx="85.1" cy="607.5" r="0.95" fill="#000"/>
<circle cx="89.2" cy="606.5" r="0.95" fill="#000"/>
<circle cx="92.3" cy="604.8" r="0.95" fill="#000"/>
<circle cx="91.2" cy="599.7" r="0.95" fill="#000"/>
<circle cx="93.9" cy="596.0" r="0.95" fill="#000"/>
<circle cx="97.2" cy="595.4" r="0.95" fill="#000"/>
<circle cx="98.2" cy="594.3" r="0.95" fill="#000"/>
<circle cx="99.3" cy="598.1" r="0.95" fill="#000"/>
<circle cx="99.3" cy="601.7" r="0.95" fill="#000"/>
<circle cx="102.2" cy="604.4" r="0.95" fill="#000"/>
<circle cx="95.2" cy="607.5" r="0.95" fill="#000"/>
<circle cx="93.9" cy="610.2" r="0.95" fill="#000"/>
<circle cx="97.2" cy="611.8" r="0.95" fill="#000"/>
<circle cx="101.7" cy="610.5" r="0.95" fill="#000"/>
<circle cx="101.9" cy="613.5" r="0.95" fill="#000"/>
<circle cx="70.7" cy="611.2" r="0.95" fill="#000"/>
<circle cx="72.1" cy="610.8" r="0.95" fill="#000"/>
<circle cx="77.5" cy="611.6" r="0.95" fill="#000"/>
<circle cx="77.0" cy="613.9" r="0.95" fill="#000"/>
<circle cx="84.5" cy="613.2" r="0.95" fill="#000"/>
<circle cx="83.8" cy="614.5" r="0.95" fill="#000"/>
<circle cx="88.9" cy="611.8" r="0.95" fill="#000"/>
<circle cx="90.5" cy="615.9" r="0.95" fill="#000"/>
<circle cx="91.9" cy="613.5" r="0.95" fill="#000"/>
<circle cx="87.1" cy="617.0" r="0.95" fill="#000"/>
<circle cx="76.1" cy="617.0" r="0.95" fill="#000"/>
<circle cx="59.6" cy="618.3" r="0.95" fill="#000"/>
<circle cx="88.2" cy="621.0" r="0.95" fill="#000"/>
<circle cx="89.8" cy="621.9" r="0.95" fill="#000"/>
<circle cx="91.2" cy="622.9" r="0.95" fill="#000"/>
<circle cx="101.9" cy="619.6" r="0.95" fill="#000"/>
<circle cx="42.1" cy="625.3" r="0.95" fill="#000"/>
<circle cx="43.0" cy="623.3" r="0.95" fill="#000"/>
<circle cx="75.7" cy="626.4" r="0.95" fill="#000"/>
<circle cx="55.5" cy="629.6" r="0.95" fill="#000"/>
<circle cx="82.8" cy="628.7" r="0.95" fill="#000"/>
<circle cx="83.1" cy="629.6" r="0.95" fill="#000"/>
<circle cx="88.2" cy="628.7" r="0.95" fill="#000"/>
<circle cx="71.4" cy="633.6" r="0.95" fill="#000"/>
<circle cx="42.5" cy="637.0" r="0.95" fill="#000"/>
<circle cx="60.9" cy="646.6" r="0.95" fill="#000"/>
<circle cx="73.0" cy="650.6" r="0.95" fill="#000"/>
<circle cx="95.2" cy="649.9" r="0.95" fill="#000"/>
<circle cx="90.9" cy="657.6" r="0.95" fill="#000"/>
<circle cx="106.0" cy="597.7" r="0.95" fill="#000"/>
<circle cx="108.7" cy="595.4" r="0.95" fill="#000"/>
<circle cx="114.1" cy="594.3" r="0.95" fill="#000"/>
<circle cx="115.8" cy="595.0" r="0.95" fill="#000"/>
<circle cx="134.7" cy="594.1" r="0.95" fill="#000"/>
<circle cx="124.2" cy="597.7" r="0.95" fill="#000"/>
<circle cx="112.1" cy="599.1" r="0.95" fill="#000"/>
<circle cx="111.0" cy="600.8" r="0.95" fill="#000"/>
<circle cx="133.6" cy="599.5" r="0.95" fill="#000"/>
<circle cx="120.8" cy="602.7" r="0.95" fill="#000"/>
<circle cx="122.2" cy="601.7" r="0.95" fill="#000"/>
<circle cx="126.2" cy="603.8" r="0.95" fill="#000"/>
<circle cx="114.8" cy="605.1" r="0.95" fill="#000"/>
<circle cx="110.5" cy="607.8" r="0.95" fill="#000"/>
<circle cx="119.1" cy="609.4" r="0.95" fill="#000"/>
<circle cx="128.9" cy="610.5" r="0.95" fill="#000"/>
<circle cx="115.8" cy="614.3" r="0.95" fill="#000"/>
<circle cx="109.4" cy="615.9" r="0.95" fill="#000"/>
<circle cx="110.7" cy="617.5" r="0.95" fill="#000"/>
<circle cx="114.1" cy="618.6" r="0.95" fill="#000"/>
<circle cx="139.0" cy="615.9" r="0.95" fill="#000"/>
<circle cx="110.1" cy="622.9" r="0.95" fill="#000"/>
<circle cx="117.5" cy="626.0" r="0.95" fill="#000"/>
<circle cx="113.2" cy="628.3" r="0.95" fill="#000"/>
<circle cx="131.6" cy="628.0" r="0.95" fill="#000"/>
<circle cx="111.0" cy="634.7" r="0.95" fill="#000"/>
<circle cx="110.7" cy="637.8" r="0.95" fill="#000"/>
<circle cx="119.1" cy="637.8" r="0.95" fill="#000"/>
<circle cx="126.2" cy="655.9" r="0.95" fill="#000"/>
<circle cx="82.9" cy="629.4" r="0.95" fill="#000"/>
<circle cx="88.0" cy="628.5" r="0.95" fill="#000"/>
<circle cx="133.5" cy="599.2" r="0.95" fill="#000"/>
<line x1="42.10" y1="621.40" x2="167.50" y2="572.40" stroke="#333" stroke-width="0.9" />
<line x1="34.50" y1="626.00" x2="36.10" y2="626.00" stroke="#4d4d4d" stroke-width="0.6" />
<text x="33.80" y="628.51" font-size="7.0" text-anchor="end" fill="#4d4d4d" stroke="#4d4d4d" stroke-width="0.15">8</text>
<line x1="34.50" y1="583.30" x2="36.10" y2="583.30" stroke="#4d4d4d" stroke-width="0.6" />
<text x="33.80" y="585.81" font-size="7.0" text-anchor="end" fill="#4d4d4d" stroke="#4d4d4d" stroke-width="0.15">10</text>
<line x1="34.50" y1="540.60" x2="36.10" y2="540.60" stroke="#4d4d4d" stroke-width="0.6" />
<text x="33.80" y="543.11" font-size="7.0" text-anchor="end" fill="#4d4d4d" stroke="#4d4d4d" stroke-width="0.15">12</text>
<line x1="57.10" y1="663.50" x2="57.10" y2="665.10" stroke="#4d4d4d" stroke-width="0.6" />
<text x="57.10" y="671.31" font-size="7.0" text-anchor="middle" fill="#4d4d4d" stroke="#4d4d4d" stroke-width="0.15">2</text>
<line x1="93.86" y1="663.50" x2="93.86" y2="665.10" stroke="#4d4d4d" stroke-width="0.6" />
<text x="93.86" y="671.31" font-size="7.0" text-anchor="middle" fill="#4d4d4d" stroke="#4d4d4d" stroke-width="0.15">4</text>
<line x1="130.62" y1="663.50" x2="130.62" y2="665.10" stroke="#4d4d4d" stroke-width="0.6" />
<text x="130.62" y="671.31" font-size="7.0" text-anchor="middle" fill="#4d4d4d" stroke="#4d4d4d" stroke-width="0.15">6</text>
<line x1="167.38" y1="663.50" x2="167.38" y2="665.10" stroke="#4d4d4d" stroke-width="0.6" />
<text x="167.38" y="671.31" font-size="7.0" text-anchor="middle" fill="#4d4d4d" stroke="#4d4d4d" stroke-width="0.15">8</text>
<text x="93.00" y="510.72" font-size="9.0" font-weight="bold" stroke="#000" stroke-width="0.15" textLength="25.00" lengthAdjust="spacingAndGlyphs" >TCGA</text>
<text x="56.30" y="521.66" font-size="8.0" fill="#222" stroke="#222" stroke-width="0.15" textLength="97.50" lengthAdjust="spacingAndGlyphs" >cor = 0.393 (<tspan font-style="italic">P</tspan> = 7.27e–07)</text>
<text x="98.80" y="681.44" font-size="8.2" font-style="italic" fill="#333" stroke="#333" stroke-width="0.15" textLength="25.00" lengthAdjust="spacingAndGlyphs" >FOSL1</text>
<text transform="translate(22.74,607.30) rotate(-90)" x="0" y="0" font-size="8.2" textLength="27.30" lengthAdjust="spacingAndGlyphs" font-style="italic" fill="#333" stroke="#333" stroke-width="0.15">LAMC2</text>
<text x="191.70" y="371.00" font-size="12.5" font-weight="bold" stroke="#000" stroke-width="0.15" >J</text>
<text x="276.00" y="375.22" font-size="9.0" font-weight="bold" stroke="#000" stroke-width="0.15" textLength="29.00" lengthAdjust="spacingAndGlyphs" >HPAFII</text>
<text x="269.50" y="387.79" font-size="7.8" stroke="#000" stroke-width="0.15" textLength="46.00" lengthAdjust="spacingAndGlyphs" >LacZ FOSL1</text>
<text x="231.00" y="410.40" font-size="8.1" stroke="#000" stroke-width="0.15" textLength="25.00" lengthAdjust="spacingAndGlyphs" >FOSL1</text>
<text x="227.00" y="437.10" font-size="8.1" stroke="#000" stroke-width="0.15" textLength="34.00" lengthAdjust="spacingAndGlyphs" >β-Tubulin</text>
<rect x="266.30" y="392.30" width="47.40" height="29.10" fill="#e6e6e6" />
<ellipse cx="302.00" cy="408.30" rx="7.50" ry="3.00" fill="#666" opacity="0.8" filter="url(#bl2)"/>
<ellipse cx="279.80" cy="409.00" rx="8.00" ry="3.00" fill="#d4d4d4" opacity="0.6" filter="url(#bl2)"/>
<rect x="271.80" y="403.00" width="16.00" height="4.00" rx="1.80" ry="2.00" fill="#c2c2c2" opacity="1" filter="url(#bl)"/>
<rect x="271.80" y="411.00" width="16.00" height="4.40" rx="1.98" ry="2.20" fill="#a8a8a8" opacity="1" filter="url(#bl)"/>
<rect x="294.25" y="401.00" width="14.50" height="5.20" rx="2.34" ry="2.60" fill="#080808" opacity="1" filter="url(#bl)"/>
<rect x="294.20" y="410.00" width="16.00" height="6.00" rx="2.70" ry="3.00" fill="#000" opacity="1" filter="url(#bl)"/>
<rect x="266.30" y="423.50" width="47.40" height="23.20" fill="#dedede" />
<path d="M267.5,429.6 Q272,431 276,432.6 L290,433 L291.5,432.4 L293,432.8 L312.5,432.4 L312.5,437.2 L293,437.6 L291.5,437 L290,437.6 L276,437.8 Q271,436.8 267.5,434 z" fill="#1a1a1a" filter="url(#bl)"/>
<text x="385.00" y="373.00" font-size="12.5" font-weight="bold" stroke="#000" stroke-width="0.15" >K</text>
<text x="435.60" y="374.52" font-size="9.0" font-weight="bold" stroke="#000" stroke-width="0.15" textLength="30.40" lengthAdjust="spacingAndGlyphs" >HPAFII</text>
<line x1="414.50" y1="398.72" x2="414.50" y2="484.00" stroke="#000" stroke-width="1.0" />
<line x1="412.00" y1="483.50" x2="414.50" y2="483.50" stroke="#000" stroke-width="0.9" />
<text x="411.20" y="486.15" font-size="7.4" text-anchor="end" stroke="#000" stroke-width="0.15">0</text>
<line x1="412.00" y1="469.42" x2="414.50" y2="469.42" stroke="#000" stroke-width="0.9" />
<text x="411.20" y="472.07" font-size="7.4" text-anchor="end" stroke="#000" stroke-width="0.15">2</text>
<line x1="412.00" y1="455.34" x2="414.50" y2="455.34" stroke="#000" stroke-width="0.9" />
<text x="411.20" y="457.99" font-size="7.4" text-anchor="end" stroke="#000" stroke-width="0.15">4</text>
<line x1="412.00" y1="441.26" x2="414.50" y2="441.26" stroke="#000" stroke-width="0.9" />
<text x="411.20" y="443.91" font-size="7.4" text-anchor="end" stroke="#000" stroke-width="0.15">6</text>
<line x1="412.00" y1="427.18" x2="414.50" y2="427.18" stroke="#000" stroke-width="0.9" />
<text x="411.20" y="429.83" font-size="7.4" text-anchor="end" stroke="#000" stroke-width="0.15">8</text>
<line x1="412.00" y1="413.10" x2="414.50" y2="413.10" stroke="#000" stroke-width="0.9" />
<text x="411.20" y="415.75" font-size="7.4" text-anchor="end" stroke="#000" stroke-width="0.15">10</text>
<line x1="412.00" y1="399.02" x2="414.50" y2="399.02" stroke="#000" stroke-width="0.9" />
<text x="411.20" y="401.67" font-size="7.4" text-anchor="end" stroke="#000" stroke-width="0.15">12</text>
<line x1="414.50" y1="483.50" x2="500.00" y2="483.50" stroke="#000" stroke-width="1.0" />
<text transform="translate(395.86,482.00) rotate(-90)" x="0" y="0" font-size="8.0" textLength="74.50" lengthAdjust="spacingAndGlyphs" stroke="#000" stroke-width="0.15">Relative proliferation</text>
<rect x="419.50" y="413.10" width="13.00" height="70.40" fill="#000" stroke="#000" stroke-width="0.9" />
<line x1="426.50" y1="403.24" x2="426.50" y2="422.96" stroke="#000" stroke-width="1.0" />
<line x1="424.00" y1="403.24" x2="429.00" y2="403.24" stroke="#000" stroke-width="1.0" />
<line x1="424.00" y1="422.96" x2="429.00" y2="422.96" stroke="#000" stroke-width="1.0" />
<circle cx="423.5" cy="406" r="1.3" fill="#000"/>
<circle cx="429.5" cy="405.5" r="1.3" fill="#000"/>
<circle cx="426.5" cy="410.5" r="1.3" fill="#000"/>
<line x1="426.50" y1="483.50" x2="426.50" y2="485.50" stroke="#000" stroke-width="0.8" />
<rect x="440.80" y="441.26" width="13.00" height="42.24" fill="#1f9a5e" stroke="#000" stroke-width="0.9" />
<line x1="447.50" y1="437.39" x2="447.50" y2="445.13" stroke="#000" stroke-width="1.0" />
<line x1="445.00" y1="437.39" x2="450.00" y2="437.39" stroke="#000" stroke-width="1.0" />
<line x1="445.00" y1="445.13" x2="450.00" y2="445.13" stroke="#000" stroke-width="1.0" />
<circle cx="447" cy="440" r="1.3" fill="#000"/>
<circle cx="445.5" cy="437.5" r="1.3" fill="#000"/>
<circle cx="448.5" cy="442.2" r="1.3" fill="#000"/>
<circle cx="447" cy="439" r="1.3" fill="#000"/>
<line x1="447.50" y1="483.50" x2="447.50" y2="485.50" stroke="#000" stroke-width="0.8" />
<rect x="461.80" y="415.92" width="12.70" height="67.58" fill="#1a93b5" stroke="#000" stroke-width="0.9" />
<line x1="468.50" y1="409.58" x2="468.50" y2="422.25" stroke="#000" stroke-width="1.0" />
<line x1="466.00" y1="409.58" x2="471.00" y2="409.58" stroke="#000" stroke-width="1.0" />
<line x1="466.00" y1="422.25" x2="471.00" y2="422.25" stroke="#000" stroke-width="1.0" />
<circle cx="465.5" cy="412.5" r="1.3" fill="#000"/>
<circle cx="470" cy="412.5" r="1.3" fill="#000"/>
<circle cx="467.5" cy="424.6" r="1.3" fill="#000"/>
<line x1="468.50" y1="483.50" x2="468.50" y2="485.50" stroke="#000" stroke-width="0.8" />
<rect x="482.50" y="427.18" width="13.00" height="56.32" fill="#b7dc97" stroke="#000" stroke-width="0.9" />
<line x1="489.50" y1="418.03" x2="489.50" y2="436.33" stroke="#000" stroke-width="1.0" />
<line x1="487.00" y1="418.03" x2="492.00" y2="418.03" stroke="#000" stroke-width="1.0" />
<line x1="487.00" y1="436.33" x2="492.00" y2="436.33" stroke="#000" stroke-width="1.0" />
<circle cx="488.2" cy="413.2" r="1.3" fill="#000"/>
<circle cx="485.5" cy="430.4" r="1.3" fill="#000"/>
<circle cx="490.6" cy="430.4" r="1.3" fill="#000"/>
<line x1="489.50" y1="483.50" x2="489.50" y2="485.50" stroke="#000" stroke-width="0.8" />
<text x="417.00" y="397.72" font-size="7.6" stroke="#000" stroke-width="0.15" textLength="35.00" lengthAdjust="spacingAndGlyphs" ><tspan font-style="italic">P</tspan> = 0.0009</text>
<line x1="428.80" y1="399.50" x2="442.50" y2="399.50" stroke="#000" stroke-width="0.8" />
<text x="451.00" y="387.72" font-size="7.6" stroke="#000" stroke-width="0.15" textLength="35.00" lengthAdjust="spacingAndGlyphs" ><tspan font-style="italic">P</tspan> = 0.0232</text>
<line x1="448.80" y1="389.20" x2="490.00" y2="389.20" stroke="#000" stroke-width="0.8" />
<text x="472.50" y="403.52" font-size="7.6" stroke="#000" stroke-width="0.15" textLength="11.50" lengthAdjust="spacingAndGlyphs" >n.s.</text>
<line x1="469.50" y1="403.80" x2="487.50" y2="403.80" stroke="#000" stroke-width="0.8" />
<text x="419.00" y="494.67" font-size="6.9" text-anchor="middle" stroke="#000" stroke-width="0.15">TET</text>
<text x="419.00" y="502.27" font-size="6.9" text-anchor="middle" font-style="italic" stroke="#000" stroke-width="0.15">GFPsh</text>
<text x="444.00" y="494.67" font-size="6.9" text-anchor="middle" stroke="#000" stroke-width="0.15">TET</text>
<text x="444.00" y="502.27" font-size="6.9" text-anchor="middle" font-style="italic" stroke="#000" stroke-width="0.15">LAMC2</text>
<text x="444.00" y="509.47" font-size="6.9" text-anchor="middle" stroke="#000" stroke-width="0.15">sh2</text>
<text x="469.20" y="494.67" font-size="6.9" text-anchor="middle" stroke="#000" stroke-width="0.15">TET</text>
<text x="469.20" y="502.27" font-size="6.9" text-anchor="middle" font-style="italic" stroke="#000" stroke-width="0.15">GFPsh</text>
<text x="492.80" y="494.67" font-size="6.9" text-anchor="middle" stroke="#000" stroke-width="0.15">TET</text>
<text x="492.80" y="502.27" font-size="6.9" text-anchor="middle" font-style="italic" stroke="#000" stroke-width="0.15">LAMC2</text>
<text x="492.80" y="509.47" font-size="6.9" text-anchor="middle" stroke="#000" stroke-width="0.15">sh2</text>
<line x1="413.60" y1="513.60" x2="451.30" y2="513.60" stroke="#000" stroke-width="0.9" />
<line x1="456.20" y1="513.60" x2="499.80" y2="513.60" stroke="#000" stroke-width="0.9" />
<text x="413.60" y="523.79" font-size="7.8" stroke="#000" stroke-width="0.15" textLength="33.70" lengthAdjust="spacingAndGlyphs" >pL6-LacZ</text>
<text x="456.20" y="523.79" font-size="7.8" stroke="#000" stroke-width="0.15" textLength="42.30" lengthAdjust="spacingAndGlyphs" >pL6-FOSL1</text>
<text x="192.00" y="463.50" font-size="12.5" font-weight="bold" stroke="#000" stroke-width="0.15" >L</text>
<text x="245.00" y="462.72" font-size="9.0" font-weight="bold" stroke="#000" stroke-width="0.15" textLength="45.00" lengthAdjust="spacingAndGlyphs" >PATU8902</text>
<text x="329.50" y="463.22" font-size="9.0" font-weight="bold" stroke="#000" stroke-width="0.15" textLength="30.00" lengthAdjust="spacingAndGlyphs" >HPAFII</text>
<text x="242.00" y="473.16" font-size="6.6" text-anchor="middle" stroke="#000" stroke-width="0.15">TET</text>
<text x="242.00" y="480.66" font-size="6.6" text-anchor="middle" font-style="italic" stroke="#000" stroke-width="0.15">GFPsh</text>
<text x="267.50" y="473.16" font-size="6.6" text-anchor="middle" stroke="#000" stroke-width="0.15">TET</text>
<text x="267.50" y="480.66" font-size="6.6" text-anchor="middle" font-style="italic" stroke="#000" stroke-width="0.15">FOSL1</text>
<text x="267.50" y="488.66" font-size="6.6" text-anchor="middle" stroke="#000" stroke-width="0.15">sh7</text>
<text x="291.30" y="473.16" font-size="6.6" text-anchor="middle" stroke="#000" stroke-width="0.15">TET</text>
<text x="291.30" y="480.66" font-size="6.6" text-anchor="middle" font-style="italic" stroke="#000" stroke-width="0.15">FOSL1</text>
<text x="291.30" y="488.66" font-size="6.6" text-anchor="middle" stroke="#000" stroke-width="0.15">sh10</text>
<text x="320.80" y="473.16" font-size="6.6" text-anchor="middle" stroke="#000" stroke-width="0.15">TET</text>
<text x="320.80" y="480.66" font-size="6.6" text-anchor="middle" font-style="italic" stroke="#000" stroke-width="0.15">GFPsh</text>
<text x="344.50" y="473.16" font-size="6.6" text-anchor="middle" stroke="#000" stroke-width="0.15">TET</text>
<text x="344.50" y="480.66" font-size="6.6" text-anchor="middle" font-style="italic" stroke="#000" stroke-width="0.15">FOSL1</text>
<text x="344.50" y="488.66" font-size="6.6" text-anchor="middle" stroke="#000" stroke-width="0.15">sh7</text>
<text x="367.50" y="473.16" font-size="6.6" text-anchor="middle" stroke="#000" stroke-width="0.15">TET</text>
<text x="367.50" y="480.66" font-size="6.6" text-anchor="middle" font-style="italic" stroke="#000" stroke-width="0.15">FOSL1</text>
<text x="367.50" y="488.66" font-size="6.6" text-anchor="middle" stroke="#000" stroke-width="0.15">sh10</text>
<text x="208.80" y="502.90" font-size="8.1" stroke="#000" stroke-width="0.15" textLength="14.50" lengthAdjust="spacingAndGlyphs" >AXL</text>
<text x="197.50" y="524.70" font-size="8.1" stroke="#000" stroke-width="0.15" textLength="28.80" lengthAdjust="spacingAndGlyphs" >GAPDH</text>
<rect x="230.30" y="489.30" width="68.00" height="20.20" fill="#cccccc" />
<rect x="233" y="490" width="20" height="15" fill="#8c8c8c" opacity="0.75" filter="url(#bl3)"/>
<rect x="236" y="491" width="12" height="7" fill="#6c6c6c" opacity="0.5" filter="url(#bl3)"/>
<rect x="256" y="491" width="20" height="13" fill="#b0b0b0" opacity="0.7" filter="url(#bl3)"/>
<rect x="279" y="492" width="17" height="12" fill="#bdbdbd" opacity="0.6" filter="url(#bl3)"/>
<rect x="230.80" y="512.30" width="66.70" height="18.50" fill="#e0e0e0" />
<rect x="230.50" y="517.30" width="25.00" height="6.00" rx="2.70" ry="3.00" fill="#000" opacity="1" filter="url(#bl)"/>
<rect x="254.00" y="517.90" width="24.00" height="5.40" rx="2.43" ry="2.70" fill="#050505" opacity="1" filter="url(#bl)"/>
<rect x="277.00" y="517.60" width="22.00" height="5.40" rx="2.43" ry="2.70" fill="#000" opacity="1" filter="url(#bl)"/>
<rect x="308.30" y="489.30" width="65.30" height="20.20" fill="#d2d2d2" />
<rect x="312" y="490" width="18" height="12" fill="#a4a4a4" opacity="0.75" filter="url(#bl3)"/>
<rect x="335" y="492" width="18" height="10" fill="#c2c2c2" opacity="0.6" filter="url(#bl3)"/>
<rect x="357" y="492" width="15" height="10" fill="#c8c8c8" opacity="0.5" filter="url(#bl3)"/>
<rect x="308.30" y="512.30" width="65.50" height="18.50" fill="#e2e2e2" />
<rect x="308.50" y="517.10" width="24.00" height="5.00" rx="2.25" ry="2.50" fill="#000" opacity="1" filter="url(#bl)"/>
<rect x="332.50" y="517.50" width="23.00" height="5.00" rx="2.25" ry="2.50" fill="#000" opacity="1" filter="url(#bl)"/>
<rect x="357.00" y="518.05" width="14.00" height="5.50" rx="2.48" ry="2.75" fill="#000" opacity="1" filter="url(#bl)"/>
<rect x="361.00" y="521.00" width="13.00" height="7.00" rx="3.15" ry="3.50" fill="#000" opacity="1" filter="url(#bl)"/>
<rect x="368.00" y="519.50" width="6.00" height="5.00" rx="2.25" ry="2.50" fill="#111" opacity="1" filter="url(#bl)"/>
<text x="191.30" y="550.10" font-size="12.5" font-weight="bold" stroke="#000" stroke-width="0.15" >M</text>
<text x="242.50" y="550.22" font-size="9.0" font-weight="bold" stroke="#000" stroke-width="0.15" textLength="45.00" lengthAdjust="spacingAndGlyphs" >PATU8902</text>
<text x="327.50" y="550.22" font-size="9.0" font-weight="bold" stroke="#000" stroke-width="0.15" textLength="29.50" lengthAdjust="spacingAndGlyphs" >HPAFII</text>
<text x="246.30" y="564.16" font-size="6.6" text-anchor="middle" stroke="#000" stroke-width="0.15">TET</text>
<text x="246.30" y="571.16" font-size="6.6" text-anchor="middle" font-style="italic" stroke="#000" stroke-width="0.15">GFPsh</text>
<text x="270.00" y="564.16" font-size="6.6" text-anchor="middle" stroke="#000" stroke-width="0.15">TET</text>
<text x="270.00" y="571.16" font-size="6.6" text-anchor="middle" font-style="italic" stroke="#000" stroke-width="0.15">LAMC2</text>
<text x="270.00" y="578.66" font-size="6.6" text-anchor="middle" stroke="#000" stroke-width="0.15">sh2</text>
<text x="292.50" y="564.16" font-size="6.6" text-anchor="middle" stroke="#000" stroke-width="0.15">TET</text>
<text x="292.50" y="571.16" font-size="6.6" text-anchor="middle" font-style="italic" stroke="#000" stroke-width="0.15">LAMC2</text>
<text x="292.50" y="578.66" font-size="6.6" text-anchor="middle" stroke="#000" stroke-width="0.15">sh4</text>
<text x="319.30" y="564.16" font-size="6.6" text-anchor="middle" stroke="#000" stroke-width="0.15">TET</text>
<text x="319.30" y="571.16" font-size="6.6" text-anchor="middle" font-style="italic" stroke="#000" stroke-width="0.15">GFPsh</text>
<text x="343.30" y="564.16" font-size="6.6" text-anchor="middle" stroke="#000" stroke-width="0.15">TET</text>
<text x="343.30" y="571.16" font-size="6.6" text-anchor="middle" font-style="italic" stroke="#000" stroke-width="0.15">LAMC2</text>
<text x="343.30" y="578.66" font-size="6.6" text-anchor="middle" stroke="#000" stroke-width="0.15">sh2</text>
<text x="366.30" y="564.16" font-size="6.6" text-anchor="middle" stroke="#000" stroke-width="0.15">TET</text>
<text x="366.30" y="571.16" font-size="6.6" text-anchor="middle" font-style="italic" stroke="#000" stroke-width="0.15">LAMC2</text>
<text x="366.30" y="578.66" font-size="6.6" text-anchor="middle" stroke="#000" stroke-width="0.15">sh4</text>
<text x="183.00" y="594.20" font-size="8.1" stroke="#000" stroke-width="0.15" textLength="49.50" lengthAdjust="spacingAndGlyphs" >phospho-AKT</text>
<text x="203.80" y="615.90" font-size="8.1" stroke="#000" stroke-width="0.15" textLength="15.50" lengthAdjust="spacingAndGlyphs" >AKT</text>
<text x="197.50" y="639.70" font-size="8.1" stroke="#000" stroke-width="0.15" textLength="27.00" lengthAdjust="spacingAndGlyphs" >LAMC2</text>
<text x="192.50" y="662.50" font-size="8.1" stroke="#000" stroke-width="0.15" textLength="33.80" lengthAdjust="spacingAndGlyphs" >β-Tubulin</text>
<rect x="235.50" y="580.80" width="64.50" height="19.70" fill="#e9e9e9" />
<rect x="238.00" y="588.30" width="19.00" height="4.60" rx="2.07" ry="2.30" fill="#050505" opacity="1" filter="url(#bl)"/>
<rect x="261.50" y="590.30" width="16.00" height="3.00" rx="1.35" ry="1.50" fill="#d4d4d4" opacity="1" filter="url(#bl)"/>
<rect x="283.00" y="589.30" width="16.00" height="3.00" rx="1.35" ry="1.50" fill="#d8d8d8" opacity="1" filter="url(#bl)"/>
<rect x="235.50" y="604.50" width="64.50" height="19.30" fill="#e0e0e0" />
<rect x="237.50" y="615.10" width="20.00" height="5.00" rx="2.25" ry="2.50" fill="#2a2a2a" opacity="1" filter="url(#bl)"/>
<rect x="257.50" y="614.90" width="19.00" height="5.00" rx="2.25" ry="2.50" fill="#1a1a1a" opacity="1" filter="url(#bl)"/>
<rect x="278.50" y="615.00" width="19.00" height="4.40" rx="1.98" ry="2.20" fill="#5a5a5a" opacity="1" filter="url(#bl)"/>
<rect x="279.00" y="612.40" width="18.00" height="2.40" rx="1.08" ry="1.20" fill="#aaa" opacity="0.8" filter="url(#bl)"/>
<rect x="235.50" y="627.50" width="64.50" height="17.50" fill="#ebebeb" />
<rect x="238.00" y="634.20" width="18.00" height="4.00" rx="1.80" ry="2.00" fill="#1a1a1a" opacity="1" filter="url(#bl)"/>
<rect x="279.00" y="634.10" width="19.00" height="3.00" rx="1.35" ry="1.50" fill="#7a7a7a" opacity="1" filter="url(#bl)"/>
<rect x="235.50" y="648.80" width="64.50" height="19.20" fill="#e2e2e2" />
<rect x="238.00" y="657.80" width="20.00" height="4.00" rx="1.80" ry="2.00" fill="#4a4a4a" opacity="1" filter="url(#bl)"/>
<rect x="258.50" y="658.10" width="18.00" height="3.80" rx="1.71" ry="1.90" fill="#4a4a4a" opacity="1" filter="url(#bl)"/>
<rect x="278.50" y="657.50" width="19.00" height="3.60" rx="1.62" ry="1.80" fill="#5a5a5a" opacity="1" filter="url(#bl)"/>
<rect x="307.00" y="581.30" width="65.50" height="18.20" fill="#e8e8e8" />
<rect x="309.50" y="587.30" width="21.00" height="5.00" rx="2.25" ry="2.50" fill="#000" opacity="1" filter="url(#bl)"/>
<rect x="333.00" y="589.90" width="19.00" height="3.40" rx="1.53" ry="1.70" fill="#4a4a4a" opacity="1" filter="url(#bl)"/>
<rect x="355.00" y="589.90" width="19.00" height="3.40" rx="1.53" ry="1.70" fill="#4a4a4a" opacity="1" filter="url(#bl)"/>
<rect x="307.00" y="604.50" width="65.50" height="19.30" fill="#dedede" />
<rect x="309.00" y="610.60" width="22.00" height="6.00" rx="2.70" ry="3.00" fill="#000" opacity="1" filter="url(#bl)"/>
<rect x="332.50" y="612.10" width="20.00" height="4.60" rx="2.07" ry="2.30" fill="#1a1a1a" opacity="1" filter="url(#bl)"/>
<rect x="354.50" y="612.50" width="20.00" height="4.60" rx="2.07" ry="2.30" fill="#2a2a2a" opacity="1" filter="url(#bl)"/>
<rect x="307.00" y="627.50" width="65.50" height="17.00" fill="#e6e6e6" />
<rect x="310.00" y="635.50" width="19.00" height="4.60" rx="2.07" ry="2.30" fill="#000" opacity="1" filter="url(#bl)"/>
<rect x="335.50" y="637.30" width="14.00" height="2.00" rx="0.90" ry="1.00" fill="#cccccc" opacity="1" filter="url(#bl)"/>
<rect x="355.50" y="635.90" width="18.00" height="3.20" rx="1.44" ry="1.60" fill="#6a6a6a" opacity="1" filter="url(#bl)"/>
<rect x="307.00" y="649.50" width="65.50" height="18.50" fill="#d8d8d8" />
<rect x="309.00" y="658.40" width="22.00" height="5.60" rx="2.52" ry="2.80" fill="#0a0a0a" opacity="1" filter="url(#bl)"/>
<rect x="332.00" y="658.40" width="21.00" height="5.60" rx="2.52" ry="2.80" fill="#0a0a0a" opacity="1" filter="url(#bl)"/>
<rect x="354.50" y="658.50" width="20.00" height="5.40" rx="2.43" ry="2.70" fill="#0a0a0a" opacity="1" filter="url(#bl)"/>
<text x="386.00" y="539.60" font-size="12.5" font-weight="bold" stroke="#000" stroke-width="0.15" >N</text>
<line x1="428.30" y1="563.50" x2="428.30" y2="577.00" stroke="#000" stroke-width="3.6" />
<path d="M424.7,575.7 L431.90000000000003,575.7 L428.3,581.5 z" fill="#000"/>
<line x1="428.30" y1="600.00" x2="428.30" y2="612.00" stroke="#000" stroke-width="3.6" />
<path d="M424.7,610.7 L431.90000000000003,610.7 L428.3,616.5 z" fill="#000"/>
<line x1="428.30" y1="634.80" x2="428.30" y2="645.80" stroke="#000" stroke-width="3.6" />
<path d="M424.7,644.5 L431.90000000000003,644.5 L428.3,650.3 z" fill="#000"/>
<line x1="494.30" y1="563.50" x2="494.30" y2="579.00" stroke="#000" stroke-width="1.2" />
<path d="M492.1,578.4 L496.5,578.4 L494.3,582 z" fill="#000"/>
<line x1="494.30" y1="600.00" x2="494.30" y2="613.80" stroke="#000" stroke-width="1.2" />
<path d="M492.1,613.1999999999999 L496.5,613.1999999999999 L494.3,616.8 z" fill="#000"/>
<line x1="494.30" y1="634.80" x2="494.30" y2="647.30" stroke="#000" stroke-width="1.2" />
<path d="M492.1,646.6999999999999 L496.5,646.6999999999999 L494.3,650.3 z" fill="#000"/>
<ellipse cx="428" cy="550.7" rx="30.5" ry="12.3" fill="#e2efda" stroke="#000" stroke-width="1.8"/>
<text x="428.00" y="553.71" font-size="8.4" text-anchor="middle" font-weight="bold" fill="#333" stroke="#333" stroke-width="0.15" textLength="25.00" lengthAdjust="spacingAndGlyphs">LAMC2</text>
<ellipse cx="428.5" cy="591" rx="20.2" ry="8.5" fill="#e2efda" stroke="#000" stroke-width="1.6"/>
<text x="428.50" y="593.58" font-size="7.2" text-anchor="middle" font-weight="bold" fill="#333" stroke="#333" stroke-width="0.15" textLength="13.00" lengthAdjust="spacingAndGlyphs">AKT</text>
<ellipse cx="427.8" cy="625.7" rx="20" ry="8.7" fill="#e2efda" stroke="#000" stroke-width="1.6"/>
<text x="427.80" y="628.28" font-size="7.2" text-anchor="middle" font-weight="bold" fill="#333" stroke="#333" stroke-width="0.15" textLength="20.00" lengthAdjust="spacingAndGlyphs">FOSL1</text>
<ellipse cx="428" cy="659.6" rx="20" ry="9" fill="#e2efda" stroke="#000" stroke-width="1.6"/>
<text x="428.00" y="662.18" font-size="7.2" text-anchor="middle" font-weight="bold" fill="#333" stroke="#333" stroke-width="0.15" textLength="13.00" lengthAdjust="spacingAndGlyphs">AXL</text>
<ellipse cx="493.6" cy="550.7" rx="24.2" ry="12.3" fill="#fbe5d6" stroke="#7f7f7f" stroke-width="0.8"/>
<text x="493.60" y="553.42" font-size="7.6" text-anchor="middle" font-weight="bold" fill="#555" stroke="#555" stroke-width="0.15" textLength="24.00" lengthAdjust="spacingAndGlyphs">LAMC2</text>
<line x1="481.60" y1="550.70" x2="505.60" y2="550.70" stroke="#555" stroke-width="0.6" />
<ellipse cx="493.4" cy="591" rx="20.4" ry="8.5" fill="#d9d9d9" stroke="#7f7f7f" stroke-width="0.8"/>
<text x="493.40" y="593.51" font-size="7.0" text-anchor="middle" fill="#555" stroke="#555" stroke-width="0.15" textLength="13.00" lengthAdjust="spacingAndGlyphs">AKT</text>
<ellipse cx="494.3" cy="625.7" rx="16.8" ry="8.7" fill="#fbe5d6" stroke="#7f7f7f" stroke-width="0.8"/>
<text x="494.30" y="627.35" font-size="4.6" text-anchor="middle" fill="#555" stroke="#555" stroke-width="0.15" textLength="12.00" lengthAdjust="spacingAndGlyphs">FOSL1</text>
<ellipse cx="494.3" cy="659.6" rx="16.8" ry="9" fill="#fbe5d6" stroke="#7f7f7f" stroke-width="0.8"/>
<text x="494.30" y="661.32" font-size="4.8" text-anchor="middle" fill="#555" stroke="#555" stroke-width="0.15" textLength="8.00" lengthAdjust="spacingAndGlyphs">AXL</text>
<circle cx="407.6" cy="582.8" r="10" fill="url(#pg)"/>
<circle cx="407.6" cy="582.8" r="4.5" fill="#d81e26" stroke="#6a0000" stroke-width="0.6"/>
<text x="407.60" y="584.38" font-size="4.4" text-anchor="middle" fill="#f0b0b0" stroke="#f0b0b0" stroke-width="0.15">P</text>
</svg></body></html>
